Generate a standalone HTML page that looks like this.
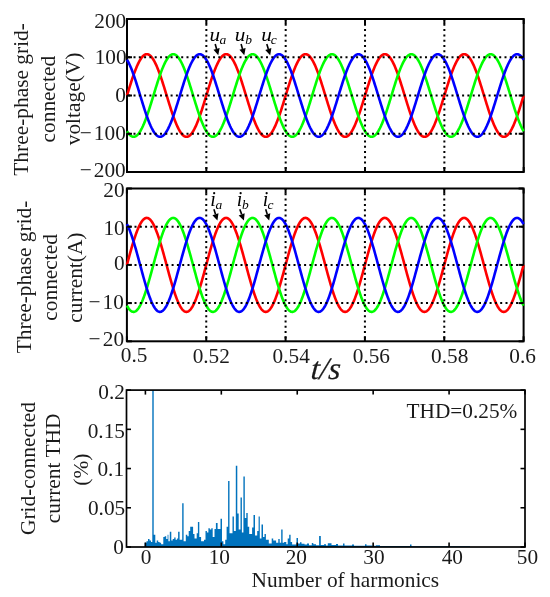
<!DOCTYPE html>
<html><head><meta charset="utf-8"><style>html,body{margin:0;padding:0;background:#fff;}svg{display:block;}</style></head>
<body><svg width="550" height="597" viewBox="0 0 550 597" font-family='"Liberation Serif","Times New Roman",serif' fill="#1a1a1a">
<rect width="550" height="597" fill="#fff"/>
<rect x="127.0" y="19.0" width="396.70000000000005" height="153.0" fill="none" stroke="#000" stroke-width="2"/>
<polyline points="127.00,95.50 127.50,93.88 127.99,92.26 128.49,90.64 128.98,89.04 129.48,87.44 129.98,85.86 130.47,84.29 130.97,82.73 131.46,81.20 131.96,79.69 132.45,78.21 132.95,76.75 133.45,75.32 133.94,73.92 134.44,72.55 134.93,71.22 135.43,69.93 135.93,68.67 136.42,67.46 136.92,66.29 137.41,65.17 137.91,64.09 138.41,63.06 138.90,62.08 139.40,61.15 139.89,60.28 140.39,59.46 140.88,58.69 141.38,57.98 141.88,57.33 142.37,56.74 142.87,56.21 143.36,55.74 143.86,55.33 144.36,54.98 144.85,54.70 145.35,54.48 145.84,54.32 146.34,54.22 146.84,54.19 147.33,54.22 147.83,54.32 148.32,54.48 148.82,54.70 149.31,54.98 149.81,55.33 150.31,55.74 150.80,56.21 151.30,56.74 151.79,57.33 152.29,57.98 152.79,58.69 153.28,59.46 153.78,60.28 154.27,61.15 154.77,62.08 155.26,63.06 155.76,64.09 156.26,65.17 156.75,66.29 157.25,67.46 157.74,68.67 158.24,69.93 158.74,71.22 159.23,72.55 159.73,73.92 160.22,75.32 160.72,76.75 161.22,78.21 161.71,79.69 162.21,81.20 162.70,82.73 163.20,84.29 163.69,85.86 164.19,87.44 164.69,89.04 165.18,90.64 165.68,92.26 166.17,93.88 166.67,95.50 167.17,97.12 167.66,98.74 168.16,100.36 168.65,101.96 169.15,103.56 169.65,105.14 170.14,106.71 170.64,108.27 171.13,109.80 171.63,111.31 172.12,112.79 172.62,114.25 173.12,115.68 173.61,117.08 174.11,118.45 174.60,119.78 175.10,121.07 175.60,122.33 176.09,123.54 176.59,124.71 177.08,125.83 177.58,126.91 178.08,127.94 178.57,128.92 179.07,129.85 179.56,130.72 180.06,131.54 180.55,132.31 181.05,133.02 181.55,133.67 182.04,134.26 182.54,134.79 183.03,135.26 183.53,135.67 184.03,136.02 184.52,136.30 185.02,136.52 185.51,136.68 186.01,136.78 186.51,136.81 187.00,136.78 187.50,136.68 187.99,136.52 188.49,136.30 188.98,136.02 189.48,135.67 189.98,135.26 190.47,134.79 190.97,134.26 191.46,133.67 191.96,133.02 192.46,132.31 192.95,131.54 193.45,130.72 193.94,129.85 194.44,128.92 194.93,127.94 195.43,126.91 195.93,125.83 196.42,124.71 196.92,123.54 197.41,122.33 197.91,121.07 198.41,119.78 198.90,118.45 199.40,117.08 199.89,115.68 200.39,114.25 200.89,112.79 201.38,111.31 201.88,109.80 202.37,108.27 202.87,106.71 203.36,105.14 203.86,103.56 204.36,101.96 204.85,100.36 205.35,98.74 205.84,97.12 206.34,95.50 206.84,93.88 207.33,92.26 207.83,90.64 208.32,89.04 208.82,87.44 209.32,85.86 209.81,84.29 210.31,82.73 210.80,81.20 211.30,79.69 211.79,78.21 212.29,76.75 212.79,75.32 213.28,73.92 213.78,72.55 214.27,71.22 214.77,69.93 215.27,68.67 215.76,67.46 216.26,66.29 216.75,65.17 217.25,64.09 217.75,63.06 218.24,62.08 218.74,61.15 219.23,60.28 219.73,59.46 220.22,58.69 220.72,57.98 221.22,57.33 221.71,56.74 222.21,56.21 222.70,55.74 223.20,55.33 223.70,54.98 224.19,54.70 224.69,54.48 225.18,54.32 225.68,54.22 226.18,54.19 226.67,54.22 227.17,54.32 227.66,54.48 228.16,54.70 228.65,54.98 229.15,55.33 229.65,55.74 230.14,56.21 230.64,56.74 231.13,57.33 231.63,57.98 232.13,58.69 232.62,59.46 233.12,60.28 233.61,61.15 234.11,62.08 234.60,63.06 235.10,64.09 235.60,65.17 236.09,66.29 236.59,67.46 237.08,68.67 237.58,69.93 238.08,71.22 238.57,72.55 239.07,73.92 239.56,75.32 240.06,76.75 240.56,78.21 241.05,79.69 241.55,81.20 242.04,82.73 242.54,84.29 243.03,85.86 243.53,87.44 244.03,89.04 244.52,90.64 245.02,92.26 245.51,93.88 246.01,95.50 246.51,97.12 247.00,98.74 247.50,100.36 247.99,101.96 248.49,103.56 248.99,105.14 249.48,106.71 249.98,108.27 250.47,109.80 250.97,111.31 251.46,112.79 251.96,114.25 252.46,115.68 252.95,117.08 253.45,118.45 253.94,119.78 254.44,121.07 254.94,122.33 255.43,123.54 255.93,124.71 256.42,125.83 256.92,126.91 257.42,127.94 257.91,128.92 258.41,129.85 258.90,130.72 259.40,131.54 259.89,132.31 260.39,133.02 260.89,133.67 261.38,134.26 261.88,134.79 262.37,135.26 262.87,135.67 263.37,136.02 263.86,136.30 264.36,136.52 264.85,136.68 265.35,136.78 265.85,136.81 266.34,136.78 266.84,136.68 267.33,136.52 267.83,136.30 268.32,136.02 268.82,135.67 269.32,135.26 269.81,134.79 270.31,134.26 270.80,133.67 271.30,133.02 271.80,132.31 272.29,131.54 272.79,130.72 273.28,129.85 273.78,128.92 274.27,127.94 274.77,126.91 275.27,125.83 275.76,124.71 276.26,123.54 276.75,122.33 277.25,121.07 277.75,119.78 278.24,118.45 278.74,117.08 279.23,115.68 279.73,114.25 280.23,112.79 280.72,111.31 281.22,109.80 281.71,108.27 282.21,106.71 282.70,105.14 283.20,103.56 283.70,101.96 284.19,100.36 284.69,98.74 285.18,97.12 285.68,95.50 286.18,93.88 286.67,92.26 287.17,90.64 287.66,89.04 288.16,87.44 288.66,85.86 289.15,84.29 289.65,82.73 290.14,81.20 290.64,79.69 291.13,78.21 291.63,76.75 292.13,75.32 292.62,73.92 293.12,72.55 293.61,71.22 294.11,69.93 294.61,68.67 295.10,67.46 295.60,66.29 296.09,65.17 296.59,64.09 297.09,63.06 297.58,62.08 298.08,61.15 298.57,60.28 299.07,59.46 299.56,58.69 300.06,57.98 300.56,57.33 301.05,56.74 301.55,56.21 302.04,55.74 302.54,55.33 303.04,54.98 303.53,54.70 304.03,54.48 304.52,54.32 305.02,54.22 305.52,54.19 306.01,54.22 306.51,54.32 307.00,54.48 307.50,54.70 307.99,54.98 308.49,55.33 308.99,55.74 309.48,56.21 309.98,56.74 310.47,57.33 310.97,57.98 311.47,58.69 311.96,59.46 312.46,60.28 312.95,61.15 313.45,62.08 313.94,63.06 314.44,64.09 314.94,65.17 315.43,66.29 315.93,67.46 316.42,68.67 316.92,69.93 317.42,71.22 317.91,72.55 318.41,73.92 318.90,75.32 319.40,76.75 319.90,78.21 320.39,79.69 320.89,81.20 321.38,82.73 321.88,84.29 322.37,85.86 322.87,87.44 323.37,89.04 323.86,90.64 324.36,92.26 324.85,93.88 325.35,95.50 325.85,97.12 326.34,98.74 326.84,100.36 327.33,101.96 327.83,103.56 328.33,105.14 328.82,106.71 329.32,108.27 329.81,109.80 330.31,111.31 330.80,112.79 331.30,114.25 331.80,115.68 332.29,117.08 332.79,118.45 333.28,119.78 333.78,121.07 334.28,122.33 334.77,123.54 335.27,124.71 335.76,125.83 336.26,126.91 336.76,127.94 337.25,128.92 337.75,129.85 338.24,130.72 338.74,131.54 339.23,132.31 339.73,133.02 340.23,133.67 340.72,134.26 341.22,134.79 341.71,135.26 342.21,135.67 342.71,136.02 343.20,136.30 343.70,136.52 344.19,136.68 344.69,136.78 345.19,136.81 345.68,136.78 346.18,136.68 346.67,136.52 347.17,136.30 347.66,136.02 348.16,135.67 348.66,135.26 349.15,134.79 349.65,134.26 350.14,133.67 350.64,133.02 351.14,132.31 351.63,131.54 352.13,130.72 352.62,129.85 353.12,128.92 353.61,127.94 354.11,126.91 354.61,125.83 355.10,124.71 355.60,123.54 356.09,122.33 356.59,121.07 357.09,119.78 357.58,118.45 358.08,117.08 358.57,115.68 359.07,114.25 359.57,112.79 360.06,111.31 360.56,109.80 361.05,108.27 361.55,106.71 362.04,105.14 362.54,103.56 363.04,101.96 363.53,100.36 364.03,98.74 364.52,97.12 365.02,95.50 365.52,93.88 366.01,92.26 366.51,90.64 367.00,89.04 367.50,87.44 368.00,85.86 368.49,84.29 368.99,82.73 369.48,81.20 369.98,79.69 370.47,78.21 370.97,76.75 371.47,75.32 371.96,73.92 372.46,72.55 372.95,71.22 373.45,69.93 373.95,68.67 374.44,67.46 374.94,66.29 375.43,65.17 375.93,64.09 376.43,63.06 376.92,62.08 377.42,61.15 377.91,60.28 378.41,59.46 378.90,58.69 379.40,57.98 379.90,57.33 380.39,56.74 380.89,56.21 381.38,55.74 381.88,55.33 382.38,54.98 382.87,54.70 383.37,54.48 383.86,54.32 384.36,54.22 384.85,54.19 385.35,54.22 385.85,54.32 386.34,54.48 386.84,54.70 387.33,54.98 387.83,55.33 388.33,55.74 388.82,56.21 389.32,56.74 389.81,57.33 390.31,57.98 390.81,58.69 391.30,59.46 391.80,60.28 392.29,61.15 392.79,62.08 393.28,63.06 393.78,64.09 394.28,65.17 394.77,66.29 395.27,67.46 395.76,68.67 396.26,69.93 396.76,71.22 397.25,72.55 397.75,73.92 398.24,75.32 398.74,76.75 399.24,78.21 399.73,79.69 400.23,81.20 400.72,82.73 401.22,84.29 401.71,85.86 402.21,87.44 402.71,89.04 403.20,90.64 403.70,92.26 404.19,93.88 404.69,95.50 405.19,97.12 405.68,98.74 406.18,100.36 406.67,101.96 407.17,103.56 407.67,105.14 408.16,106.71 408.66,108.27 409.15,109.80 409.65,111.31 410.14,112.79 410.64,114.25 411.14,115.68 411.63,117.08 412.13,118.45 412.62,119.78 413.12,121.07 413.62,122.33 414.11,123.54 414.61,124.71 415.10,125.83 415.60,126.91 416.10,127.94 416.59,128.92 417.09,129.85 417.58,130.72 418.08,131.54 418.57,132.31 419.07,133.02 419.57,133.67 420.06,134.26 420.56,134.79 421.05,135.26 421.55,135.67 422.05,136.02 422.54,136.30 423.04,136.52 423.53,136.68 424.03,136.78 424.52,136.81 425.02,136.78 425.52,136.68 426.01,136.52 426.51,136.30 427.00,136.02 427.50,135.67 428.00,135.26 428.49,134.79 428.99,134.26 429.48,133.67 429.98,133.02 430.48,132.31 430.97,131.54 431.47,130.72 431.96,129.85 432.46,128.92 432.95,127.94 433.45,126.91 433.95,125.83 434.44,124.71 434.94,123.54 435.43,122.33 435.93,121.07 436.43,119.78 436.92,118.45 437.42,117.08 437.91,115.68 438.41,114.25 438.91,112.79 439.40,111.31 439.90,109.80 440.39,108.27 440.89,106.71 441.38,105.14 441.88,103.56 442.38,101.96 442.87,100.36 443.37,98.74 443.86,97.12 444.36,95.50 444.86,93.88 445.35,92.26 445.85,90.64 446.34,89.04 446.84,87.44 447.34,85.86 447.83,84.29 448.33,82.73 448.82,81.20 449.32,79.69 449.81,78.21 450.31,76.75 450.81,75.32 451.30,73.92 451.80,72.55 452.29,71.22 452.79,69.93 453.29,68.67 453.78,67.46 454.28,66.29 454.77,65.17 455.27,64.09 455.77,63.06 456.26,62.08 456.76,61.15 457.25,60.28 457.75,59.46 458.24,58.69 458.74,57.98 459.24,57.33 459.73,56.74 460.23,56.21 460.72,55.74 461.22,55.33 461.72,54.98 462.21,54.70 462.71,54.48 463.20,54.32 463.70,54.22 464.19,54.19 464.69,54.22 465.19,54.32 465.68,54.48 466.18,54.70 466.67,54.98 467.17,55.33 467.67,55.74 468.16,56.21 468.66,56.74 469.15,57.33 469.65,57.98 470.15,58.69 470.64,59.46 471.14,60.28 471.63,61.15 472.13,62.08 472.62,63.06 473.12,64.09 473.62,65.17 474.11,66.29 474.61,67.46 475.10,68.67 475.60,69.93 476.10,71.22 476.59,72.55 477.09,73.92 477.58,75.32 478.08,76.75 478.58,78.21 479.07,79.69 479.57,81.20 480.06,82.73 480.56,84.29 481.05,85.86 481.55,87.44 482.05,89.04 482.54,90.64 483.04,92.26 483.53,93.88 484.03,95.50 484.53,97.12 485.02,98.74 485.52,100.36 486.01,101.96 486.51,103.56 487.01,105.14 487.50,106.71 488.00,108.27 488.49,109.80 488.99,111.31 489.48,112.79 489.98,114.25 490.48,115.68 490.97,117.08 491.47,118.45 491.96,119.78 492.46,121.07 492.96,122.33 493.45,123.54 493.95,124.71 494.44,125.83 494.94,126.91 495.44,127.94 495.93,128.92 496.43,129.85 496.92,130.72 497.42,131.54 497.91,132.31 498.41,133.02 498.91,133.67 499.40,134.26 499.90,134.79 500.39,135.26 500.89,135.67 501.39,136.02 501.88,136.30 502.38,136.52 502.87,136.68 503.37,136.78 503.86,136.81 504.36,136.78 504.86,136.68 505.35,136.52 505.85,136.30 506.34,136.02 506.84,135.67 507.34,135.26 507.83,134.79 508.33,134.26 508.82,133.67 509.32,133.02 509.82,132.31 510.31,131.54 510.81,130.72 511.30,129.85 511.80,128.92 512.29,127.94 512.79,126.91 513.29,125.83 513.78,124.71 514.28,123.54 514.77,122.33 515.27,121.07 515.77,119.78 516.26,118.45 516.76,117.08 517.25,115.68 517.75,114.25 518.25,112.79 518.74,111.31 519.24,109.80 519.73,108.27 520.23,106.71 520.72,105.14 521.22,103.56 521.72,101.96 522.21,100.36 522.71,98.74 523.20,97.12 523.70,95.50" stroke="#f00" stroke-width="2.6" fill="none" stroke-linejoin="round"/>
<polyline points="127.00,131.28 127.50,132.06 127.99,132.79 128.49,133.46 128.98,134.07 129.48,134.62 129.98,135.11 130.47,135.54 130.97,135.91 131.46,136.21 131.96,136.46 132.45,136.64 132.95,136.75 133.45,136.81 133.94,136.80 134.44,136.72 134.93,136.58 135.43,136.38 135.93,136.12 136.42,135.79 136.92,135.40 137.41,134.95 137.91,134.44 138.41,133.87 138.90,133.24 139.40,132.55 139.89,131.80 140.39,131.00 140.88,130.15 141.38,129.24 141.88,128.27 142.37,127.26 142.87,126.20 143.36,125.09 143.86,123.94 144.36,122.74 144.85,121.50 145.35,120.22 145.84,118.90 146.34,117.54 146.84,116.15 147.33,114.73 147.83,113.28 148.32,111.81 148.82,110.30 149.31,108.78 149.81,107.23 150.31,105.67 150.80,104.09 151.30,102.50 151.79,100.89 152.29,99.28 152.79,97.66 153.28,96.04 153.78,94.42 154.27,92.80 154.77,91.18 155.26,89.57 155.76,87.97 156.26,86.38 156.75,84.81 157.25,83.25 157.74,81.71 158.24,80.19 158.74,78.70 159.23,77.23 159.73,75.79 160.22,74.38 160.72,73.00 161.22,71.66 161.71,70.35 162.21,69.08 162.70,67.86 163.20,66.67 163.69,65.53 164.19,64.44 164.69,63.40 165.18,62.40 165.68,61.46 166.17,60.56 166.67,59.72 167.17,58.94 167.66,58.21 168.16,57.54 168.65,56.93 169.15,56.38 169.65,55.89 170.14,55.46 170.64,55.09 171.13,54.79 171.63,54.54 172.12,54.36 172.62,54.25 173.12,54.19 173.61,54.20 174.11,54.28 174.60,54.42 175.10,54.62 175.60,54.88 176.09,55.21 176.59,55.60 177.08,56.05 177.58,56.56 178.08,57.13 178.57,57.76 179.07,58.45 179.56,59.20 180.06,60.00 180.55,60.85 181.05,61.76 181.55,62.73 182.04,63.74 182.54,64.80 183.03,65.91 183.53,67.06 184.03,68.26 184.52,69.50 185.02,70.78 185.51,72.10 186.01,73.46 186.51,74.85 187.00,76.27 187.50,77.72 187.99,79.19 188.49,80.70 188.98,82.22 189.48,83.77 189.98,85.33 190.47,86.91 190.97,88.50 191.46,90.11 191.96,91.72 192.46,93.34 192.95,94.96 193.45,96.58 193.94,98.20 194.44,99.82 194.93,101.43 195.43,103.03 195.93,104.62 196.42,106.19 196.92,107.75 197.41,109.29 197.91,110.81 198.41,112.30 198.90,113.77 199.40,115.21 199.89,116.62 200.39,118.00 200.89,119.34 201.38,120.65 201.88,121.92 202.37,123.14 202.87,124.33 203.36,125.47 203.86,126.56 204.36,127.60 204.85,128.60 205.35,129.54 205.84,130.44 206.34,131.28 206.84,132.06 207.33,132.79 207.83,133.46 208.32,134.07 208.82,134.62 209.32,135.11 209.81,135.54 210.31,135.91 210.80,136.21 211.30,136.46 211.79,136.64 212.29,136.75 212.79,136.81 213.28,136.80 213.78,136.72 214.27,136.58 214.77,136.38 215.27,136.12 215.76,135.79 216.26,135.40 216.75,134.95 217.25,134.44 217.75,133.87 218.24,133.24 218.74,132.55 219.23,131.80 219.73,131.00 220.22,130.15 220.72,129.24 221.22,128.27 221.71,127.26 222.21,126.20 222.70,125.09 223.20,123.94 223.70,122.74 224.19,121.50 224.69,120.22 225.18,118.90 225.68,117.54 226.18,116.15 226.67,114.73 227.17,113.28 227.66,111.81 228.16,110.30 228.65,108.78 229.15,107.23 229.65,105.67 230.14,104.09 230.64,102.50 231.13,100.89 231.63,99.28 232.13,97.66 232.62,96.04 233.12,94.42 233.61,92.80 234.11,91.18 234.60,89.57 235.10,87.97 235.60,86.38 236.09,84.81 236.59,83.25 237.08,81.71 237.58,80.19 238.08,78.70 238.57,77.23 239.07,75.79 239.56,74.38 240.06,73.00 240.56,71.66 241.05,70.35 241.55,69.08 242.04,67.86 242.54,66.67 243.03,65.53 243.53,64.44 244.03,63.40 244.52,62.40 245.02,61.46 245.51,60.56 246.01,59.72 246.51,58.94 247.00,58.21 247.50,57.54 247.99,56.93 248.49,56.38 248.99,55.89 249.48,55.46 249.98,55.09 250.47,54.79 250.97,54.54 251.46,54.36 251.96,54.25 252.46,54.19 252.95,54.20 253.45,54.28 253.94,54.42 254.44,54.62 254.94,54.88 255.43,55.21 255.93,55.60 256.42,56.05 256.92,56.56 257.42,57.13 257.91,57.76 258.41,58.45 258.90,59.20 259.40,60.00 259.89,60.85 260.39,61.76 260.89,62.73 261.38,63.74 261.88,64.80 262.37,65.91 262.87,67.06 263.37,68.26 263.86,69.50 264.36,70.78 264.85,72.10 265.35,73.46 265.85,74.85 266.34,76.27 266.84,77.72 267.33,79.19 267.83,80.70 268.32,82.22 268.82,83.77 269.32,85.33 269.81,86.91 270.31,88.50 270.80,90.11 271.30,91.72 271.80,93.34 272.29,94.96 272.79,96.58 273.28,98.20 273.78,99.82 274.27,101.43 274.77,103.03 275.27,104.62 275.76,106.19 276.26,107.75 276.75,109.29 277.25,110.81 277.75,112.30 278.24,113.77 278.74,115.21 279.23,116.62 279.73,118.00 280.23,119.34 280.72,120.65 281.22,121.92 281.71,123.14 282.21,124.33 282.70,125.47 283.20,126.56 283.70,127.60 284.19,128.60 284.69,129.54 285.18,130.44 285.68,131.28 286.18,132.06 286.67,132.79 287.17,133.46 287.66,134.07 288.16,134.62 288.66,135.11 289.15,135.54 289.65,135.91 290.14,136.21 290.64,136.46 291.13,136.64 291.63,136.75 292.13,136.81 292.62,136.80 293.12,136.72 293.61,136.58 294.11,136.38 294.61,136.12 295.10,135.79 295.60,135.40 296.09,134.95 296.59,134.44 297.09,133.87 297.58,133.24 298.08,132.55 298.57,131.80 299.07,131.00 299.56,130.15 300.06,129.24 300.56,128.27 301.05,127.26 301.55,126.20 302.04,125.09 302.54,123.94 303.04,122.74 303.53,121.50 304.03,120.22 304.52,118.90 305.02,117.54 305.52,116.15 306.01,114.73 306.51,113.28 307.00,111.81 307.50,110.30 307.99,108.78 308.49,107.23 308.99,105.67 309.48,104.09 309.98,102.50 310.47,100.89 310.97,99.28 311.47,97.66 311.96,96.04 312.46,94.42 312.95,92.80 313.45,91.18 313.94,89.57 314.44,87.97 314.94,86.38 315.43,84.81 315.93,83.25 316.42,81.71 316.92,80.19 317.42,78.70 317.91,77.23 318.41,75.79 318.90,74.38 319.40,73.00 319.90,71.66 320.39,70.35 320.89,69.08 321.38,67.86 321.88,66.67 322.37,65.53 322.87,64.44 323.37,63.40 323.86,62.40 324.36,61.46 324.85,60.56 325.35,59.72 325.85,58.94 326.34,58.21 326.84,57.54 327.33,56.93 327.83,56.38 328.33,55.89 328.82,55.46 329.32,55.09 329.81,54.79 330.31,54.54 330.80,54.36 331.30,54.25 331.80,54.19 332.29,54.20 332.79,54.28 333.28,54.42 333.78,54.62 334.28,54.88 334.77,55.21 335.27,55.60 335.76,56.05 336.26,56.56 336.76,57.13 337.25,57.76 337.75,58.45 338.24,59.20 338.74,60.00 339.23,60.85 339.73,61.76 340.23,62.73 340.72,63.74 341.22,64.80 341.71,65.91 342.21,67.06 342.71,68.26 343.20,69.50 343.70,70.78 344.19,72.10 344.69,73.46 345.19,74.85 345.68,76.27 346.18,77.72 346.67,79.19 347.17,80.70 347.66,82.22 348.16,83.77 348.66,85.33 349.15,86.91 349.65,88.50 350.14,90.11 350.64,91.72 351.14,93.34 351.63,94.96 352.13,96.58 352.62,98.20 353.12,99.82 353.61,101.43 354.11,103.03 354.61,104.62 355.10,106.19 355.60,107.75 356.09,109.29 356.59,110.81 357.09,112.30 357.58,113.77 358.08,115.21 358.57,116.62 359.07,118.00 359.57,119.34 360.06,120.65 360.56,121.92 361.05,123.14 361.55,124.33 362.04,125.47 362.54,126.56 363.04,127.60 363.53,128.60 364.03,129.54 364.52,130.44 365.02,131.28 365.52,132.06 366.01,132.79 366.51,133.46 367.00,134.07 367.50,134.62 368.00,135.11 368.49,135.54 368.99,135.91 369.48,136.21 369.98,136.46 370.47,136.64 370.97,136.75 371.47,136.81 371.96,136.80 372.46,136.72 372.95,136.58 373.45,136.38 373.95,136.12 374.44,135.79 374.94,135.40 375.43,134.95 375.93,134.44 376.43,133.87 376.92,133.24 377.42,132.55 377.91,131.80 378.41,131.00 378.90,130.15 379.40,129.24 379.90,128.27 380.39,127.26 380.89,126.20 381.38,125.09 381.88,123.94 382.38,122.74 382.87,121.50 383.37,120.22 383.86,118.90 384.36,117.54 384.85,116.16 385.35,114.73 385.85,113.28 386.34,111.81 386.84,110.30 387.33,108.78 387.83,107.23 388.33,105.67 388.82,104.09 389.32,102.50 389.81,100.89 390.31,99.28 390.81,97.66 391.30,96.04 391.80,94.42 392.29,92.80 392.79,91.18 393.28,89.57 393.78,87.97 394.28,86.38 394.77,84.81 395.27,83.25 395.76,81.71 396.26,80.19 396.76,78.70 397.25,77.23 397.75,75.79 398.24,74.38 398.74,73.00 399.24,71.66 399.73,70.35 400.23,69.08 400.72,67.86 401.22,66.67 401.71,65.53 402.21,64.44 402.71,63.40 403.20,62.40 403.70,61.46 404.19,60.56 404.69,59.72 405.19,58.94 405.68,58.21 406.18,57.54 406.67,56.93 407.17,56.38 407.67,55.89 408.16,55.46 408.66,55.09 409.15,54.79 409.65,54.54 410.14,54.36 410.64,54.25 411.14,54.19 411.63,54.20 412.13,54.28 412.62,54.42 413.12,54.62 413.62,54.88 414.11,55.21 414.61,55.60 415.10,56.05 415.60,56.56 416.10,57.13 416.59,57.76 417.09,58.45 417.58,59.20 418.08,60.00 418.57,60.85 419.07,61.76 419.57,62.73 420.06,63.74 420.56,64.80 421.05,65.91 421.55,67.06 422.05,68.26 422.54,69.50 423.04,70.78 423.53,72.10 424.03,73.46 424.52,74.84 425.02,76.27 425.52,77.72 426.01,79.19 426.51,80.70 427.00,82.22 427.50,83.77 428.00,85.33 428.49,86.91 428.99,88.50 429.48,90.11 429.98,91.72 430.48,93.34 430.97,94.96 431.47,96.58 431.96,98.20 432.46,99.82 432.95,101.43 433.45,103.03 433.95,104.62 434.44,106.19 434.94,107.75 435.43,109.29 435.93,110.81 436.43,112.30 436.92,113.77 437.42,115.21 437.91,116.62 438.41,118.00 438.91,119.34 439.40,120.65 439.90,121.92 440.39,123.14 440.89,124.33 441.38,125.47 441.88,126.56 442.38,127.60 442.87,128.60 443.37,129.54 443.86,130.44 444.36,131.28 444.86,132.06 445.35,132.79 445.85,133.46 446.34,134.07 446.84,134.62 447.34,135.11 447.83,135.54 448.33,135.91 448.82,136.21 449.32,136.46 449.81,136.64 450.31,136.75 450.81,136.81 451.30,136.80 451.80,136.72 452.29,136.58 452.79,136.38 453.29,136.12 453.78,135.79 454.28,135.40 454.77,134.95 455.27,134.44 455.77,133.87 456.26,133.24 456.76,132.55 457.25,131.80 457.75,131.00 458.24,130.15 458.74,129.24 459.24,128.27 459.73,127.26 460.23,126.20 460.72,125.09 461.22,123.94 461.72,122.74 462.21,121.50 462.71,120.22 463.20,118.90 463.70,117.54 464.19,116.16 464.69,114.73 465.19,113.28 465.68,111.81 466.18,110.30 466.67,108.78 467.17,107.23 467.67,105.67 468.16,104.09 468.66,102.50 469.15,100.89 469.65,99.28 470.15,97.66 470.64,96.04 471.14,94.42 471.63,92.80 472.13,91.18 472.62,89.57 473.12,87.97 473.62,86.38 474.11,84.81 474.61,83.25 475.10,81.71 475.60,80.19 476.10,78.70 476.59,77.23 477.09,75.79 477.58,74.38 478.08,73.00 478.58,71.66 479.07,70.35 479.57,69.08 480.06,67.86 480.56,66.67 481.05,65.53 481.55,64.44 482.05,63.40 482.54,62.40 483.04,61.46 483.53,60.56 484.03,59.72 484.53,58.94 485.02,58.21 485.52,57.54 486.01,56.93 486.51,56.38 487.01,55.89 487.50,55.46 488.00,55.09 488.49,54.79 488.99,54.54 489.48,54.36 489.98,54.25 490.48,54.19 490.97,54.20 491.47,54.28 491.96,54.42 492.46,54.62 492.96,54.88 493.45,55.21 493.95,55.60 494.44,56.05 494.94,56.56 495.44,57.13 495.93,57.76 496.43,58.45 496.92,59.20 497.42,60.00 497.91,60.85 498.41,61.76 498.91,62.73 499.40,63.74 499.90,64.80 500.39,65.91 500.89,67.06 501.39,68.26 501.88,69.50 502.38,70.78 502.87,72.10 503.37,73.46 503.86,74.84 504.36,76.27 504.86,77.72 505.35,79.19 505.85,80.70 506.34,82.22 506.84,83.77 507.34,85.33 507.83,86.91 508.33,88.50 508.82,90.11 509.32,91.72 509.82,93.34 510.31,94.96 510.81,96.58 511.30,98.20 511.80,99.82 512.29,101.43 512.79,103.03 513.29,104.62 513.78,106.19 514.28,107.75 514.77,109.29 515.27,110.81 515.77,112.30 516.26,113.77 516.76,115.21 517.25,116.62 517.75,118.00 518.25,119.34 518.74,120.65 519.24,121.92 519.73,123.14 520.23,124.33 520.72,125.47 521.22,126.56 521.72,127.60 522.21,128.60 522.71,129.54 523.20,130.44 523.70,131.28" stroke="#0f0" stroke-width="2.6" fill="none" stroke-linejoin="round"/>
<polyline points="127.00,59.72 127.50,60.56 127.99,61.46 128.49,62.40 128.98,63.40 129.48,64.44 129.98,65.53 130.47,66.67 130.97,67.86 131.46,69.08 131.96,70.35 132.45,71.66 132.95,73.00 133.45,74.38 133.94,75.79 134.44,77.23 134.93,78.70 135.43,80.19 135.93,81.71 136.42,83.25 136.92,84.81 137.41,86.38 137.91,87.97 138.41,89.57 138.90,91.18 139.40,92.80 139.89,94.42 140.39,96.04 140.88,97.66 141.38,99.28 141.88,100.89 142.37,102.50 142.87,104.09 143.36,105.67 143.86,107.23 144.36,108.78 144.85,110.30 145.35,111.81 145.84,113.28 146.34,114.73 146.84,116.16 147.33,117.54 147.83,118.90 148.32,120.22 148.82,121.50 149.31,122.74 149.81,123.94 150.31,125.09 150.80,126.20 151.30,127.26 151.79,128.27 152.29,129.24 152.79,130.15 153.28,131.00 153.78,131.80 154.27,132.55 154.77,133.24 155.26,133.87 155.76,134.44 156.26,134.95 156.75,135.40 157.25,135.79 157.74,136.12 158.24,136.38 158.74,136.58 159.23,136.72 159.73,136.80 160.22,136.81 160.72,136.75 161.22,136.64 161.71,136.46 162.21,136.21 162.70,135.91 163.20,135.54 163.69,135.11 164.19,134.62 164.69,134.07 165.18,133.46 165.68,132.79 166.17,132.06 166.67,131.28 167.17,130.44 167.66,129.54 168.16,128.60 168.65,127.60 169.15,126.56 169.65,125.47 170.14,124.33 170.64,123.14 171.13,121.92 171.63,120.65 172.12,119.34 172.62,118.00 173.12,116.62 173.61,115.21 174.11,113.77 174.60,112.30 175.10,110.81 175.60,109.29 176.09,107.75 176.59,106.19 177.08,104.62 177.58,103.03 178.08,101.43 178.57,99.82 179.07,98.20 179.56,96.58 180.06,94.96 180.55,93.34 181.05,91.72 181.55,90.11 182.04,88.50 182.54,86.91 183.03,85.33 183.53,83.77 184.03,82.22 184.52,80.70 185.02,79.19 185.51,77.72 186.01,76.27 186.51,74.84 187.00,73.46 187.50,72.10 187.99,70.78 188.49,69.50 188.98,68.26 189.48,67.06 189.98,65.91 190.47,64.80 190.97,63.74 191.46,62.73 191.96,61.76 192.46,60.85 192.95,60.00 193.45,59.20 193.94,58.45 194.44,57.76 194.93,57.13 195.43,56.56 195.93,56.05 196.42,55.60 196.92,55.21 197.41,54.88 197.91,54.62 198.41,54.42 198.90,54.28 199.40,54.20 199.89,54.19 200.39,54.25 200.89,54.36 201.38,54.54 201.88,54.79 202.37,55.09 202.87,55.46 203.36,55.89 203.86,56.38 204.36,56.93 204.85,57.54 205.35,58.21 205.84,58.94 206.34,59.72 206.84,60.56 207.33,61.46 207.83,62.40 208.32,63.40 208.82,64.44 209.32,65.53 209.81,66.67 210.31,67.86 210.80,69.08 211.30,70.35 211.79,71.66 212.29,73.00 212.79,74.38 213.28,75.79 213.78,77.23 214.27,78.70 214.77,80.19 215.27,81.71 215.76,83.25 216.26,84.81 216.75,86.38 217.25,87.97 217.75,89.57 218.24,91.18 218.74,92.80 219.23,94.42 219.73,96.04 220.22,97.66 220.72,99.28 221.22,100.89 221.71,102.50 222.21,104.09 222.70,105.67 223.20,107.23 223.70,108.78 224.19,110.30 224.69,111.81 225.18,113.28 225.68,114.73 226.18,116.16 226.67,117.54 227.17,118.90 227.66,120.22 228.16,121.50 228.65,122.74 229.15,123.94 229.65,125.09 230.14,126.20 230.64,127.26 231.13,128.27 231.63,129.24 232.13,130.15 232.62,131.00 233.12,131.80 233.61,132.55 234.11,133.24 234.60,133.87 235.10,134.44 235.60,134.95 236.09,135.40 236.59,135.79 237.08,136.12 237.58,136.38 238.08,136.58 238.57,136.72 239.07,136.80 239.56,136.81 240.06,136.75 240.56,136.64 241.05,136.46 241.55,136.21 242.04,135.91 242.54,135.54 243.03,135.11 243.53,134.62 244.03,134.07 244.52,133.46 245.02,132.79 245.51,132.06 246.01,131.28 246.51,130.44 247.00,129.54 247.50,128.60 247.99,127.60 248.49,126.56 248.99,125.47 249.48,124.33 249.98,123.14 250.47,121.92 250.97,120.65 251.46,119.34 251.96,118.00 252.46,116.62 252.95,115.21 253.45,113.77 253.94,112.30 254.44,110.81 254.94,109.29 255.43,107.75 255.93,106.19 256.42,104.62 256.92,103.03 257.42,101.43 257.91,99.82 258.41,98.20 258.90,96.58 259.40,94.96 259.89,93.34 260.39,91.72 260.89,90.11 261.38,88.50 261.88,86.91 262.37,85.33 262.87,83.77 263.37,82.22 263.86,80.70 264.36,79.19 264.85,77.72 265.35,76.27 265.85,74.84 266.34,73.46 266.84,72.10 267.33,70.78 267.83,69.50 268.32,68.26 268.82,67.06 269.32,65.91 269.81,64.80 270.31,63.74 270.80,62.73 271.30,61.76 271.80,60.85 272.29,60.00 272.79,59.20 273.28,58.45 273.78,57.76 274.27,57.13 274.77,56.56 275.27,56.05 275.76,55.60 276.26,55.21 276.75,54.88 277.25,54.62 277.75,54.42 278.24,54.28 278.74,54.20 279.23,54.19 279.73,54.25 280.23,54.36 280.72,54.54 281.22,54.79 281.71,55.09 282.21,55.46 282.70,55.89 283.20,56.38 283.70,56.93 284.19,57.54 284.69,58.21 285.18,58.94 285.68,59.72 286.18,60.56 286.67,61.46 287.17,62.40 287.66,63.40 288.16,64.44 288.66,65.53 289.15,66.67 289.65,67.86 290.14,69.08 290.64,70.35 291.13,71.66 291.63,73.00 292.13,74.38 292.62,75.79 293.12,77.23 293.61,78.70 294.11,80.19 294.61,81.71 295.10,83.25 295.60,84.81 296.09,86.38 296.59,87.97 297.09,89.57 297.58,91.18 298.08,92.80 298.57,94.42 299.07,96.04 299.56,97.66 300.06,99.28 300.56,100.89 301.05,102.50 301.55,104.09 302.04,105.67 302.54,107.23 303.04,108.78 303.53,110.30 304.03,111.81 304.52,113.28 305.02,114.73 305.52,116.16 306.01,117.54 306.51,118.90 307.00,120.22 307.50,121.50 307.99,122.74 308.49,123.94 308.99,125.09 309.48,126.20 309.98,127.26 310.47,128.27 310.97,129.24 311.47,130.15 311.96,131.00 312.46,131.80 312.95,132.55 313.45,133.24 313.94,133.87 314.44,134.44 314.94,134.95 315.43,135.40 315.93,135.79 316.42,136.12 316.92,136.38 317.42,136.58 317.91,136.72 318.41,136.80 318.90,136.81 319.40,136.75 319.90,136.64 320.39,136.46 320.89,136.21 321.38,135.91 321.88,135.54 322.37,135.11 322.87,134.62 323.37,134.07 323.86,133.46 324.36,132.79 324.85,132.06 325.35,131.28 325.85,130.44 326.34,129.54 326.84,128.60 327.33,127.60 327.83,126.56 328.33,125.47 328.82,124.33 329.32,123.14 329.81,121.92 330.31,120.65 330.80,119.34 331.30,118.00 331.80,116.62 332.29,115.21 332.79,113.77 333.28,112.30 333.78,110.81 334.28,109.29 334.77,107.75 335.27,106.19 335.76,104.62 336.26,103.03 336.76,101.43 337.25,99.82 337.75,98.20 338.24,96.58 338.74,94.96 339.23,93.34 339.73,91.72 340.23,90.11 340.72,88.50 341.22,86.91 341.71,85.33 342.21,83.77 342.71,82.22 343.20,80.70 343.70,79.19 344.19,77.72 344.69,76.27 345.19,74.84 345.68,73.46 346.18,72.10 346.67,70.78 347.17,69.50 347.66,68.26 348.16,67.06 348.66,65.91 349.15,64.80 349.65,63.74 350.14,62.73 350.64,61.76 351.14,60.85 351.63,60.00 352.13,59.20 352.62,58.45 353.12,57.76 353.61,57.13 354.11,56.56 354.61,56.05 355.10,55.60 355.60,55.21 356.09,54.88 356.59,54.62 357.09,54.42 357.58,54.28 358.08,54.20 358.57,54.19 359.07,54.25 359.57,54.36 360.06,54.54 360.56,54.79 361.05,55.09 361.55,55.46 362.04,55.89 362.54,56.38 363.04,56.93 363.53,57.54 364.03,58.21 364.52,58.94 365.02,59.72 365.52,60.56 366.01,61.46 366.51,62.40 367.00,63.40 367.50,64.44 368.00,65.53 368.49,66.67 368.99,67.86 369.48,69.08 369.98,70.35 370.47,71.66 370.97,73.00 371.47,74.38 371.96,75.79 372.46,77.23 372.95,78.70 373.45,80.19 373.95,81.71 374.44,83.25 374.94,84.81 375.43,86.38 375.93,87.97 376.43,89.57 376.92,91.18 377.42,92.80 377.91,94.42 378.41,96.04 378.90,97.66 379.40,99.28 379.90,100.89 380.39,102.50 380.89,104.09 381.38,105.67 381.88,107.23 382.38,108.78 382.87,110.30 383.37,111.81 383.86,113.28 384.36,114.73 384.85,116.15 385.35,117.54 385.85,118.90 386.34,120.22 386.84,121.50 387.33,122.74 387.83,123.94 388.33,125.09 388.82,126.20 389.32,127.26 389.81,128.27 390.31,129.24 390.81,130.15 391.30,131.00 391.80,131.80 392.29,132.55 392.79,133.24 393.28,133.87 393.78,134.44 394.28,134.95 394.77,135.40 395.27,135.79 395.76,136.12 396.26,136.38 396.76,136.58 397.25,136.72 397.75,136.80 398.24,136.81 398.74,136.75 399.24,136.64 399.73,136.46 400.23,136.21 400.72,135.91 401.22,135.54 401.71,135.11 402.21,134.62 402.71,134.07 403.20,133.46 403.70,132.79 404.19,132.06 404.69,131.28 405.19,130.44 405.68,129.54 406.18,128.60 406.67,127.60 407.17,126.56 407.67,125.47 408.16,124.33 408.66,123.14 409.15,121.92 409.65,120.65 410.14,119.34 410.64,118.00 411.14,116.62 411.63,115.21 412.13,113.77 412.62,112.30 413.12,110.81 413.62,109.29 414.11,107.75 414.61,106.19 415.10,104.62 415.60,103.03 416.10,101.43 416.59,99.82 417.09,98.20 417.58,96.58 418.08,94.96 418.57,93.34 419.07,91.72 419.57,90.11 420.06,88.50 420.56,86.91 421.05,85.33 421.55,83.77 422.05,82.22 422.54,80.70 423.04,79.19 423.53,77.72 424.03,76.27 424.52,74.85 425.02,73.46 425.52,72.10 426.01,70.78 426.51,69.50 427.00,68.26 427.50,67.06 428.00,65.91 428.49,64.80 428.99,63.74 429.48,62.73 429.98,61.76 430.48,60.85 430.97,60.00 431.47,59.20 431.96,58.45 432.46,57.76 432.95,57.13 433.45,56.56 433.95,56.05 434.44,55.60 434.94,55.21 435.43,54.88 435.93,54.62 436.43,54.42 436.92,54.28 437.42,54.20 437.91,54.19 438.41,54.25 438.91,54.36 439.40,54.54 439.90,54.79 440.39,55.09 440.89,55.46 441.38,55.89 441.88,56.38 442.38,56.93 442.87,57.54 443.37,58.21 443.86,58.94 444.36,59.72 444.86,60.56 445.35,61.46 445.85,62.40 446.34,63.40 446.84,64.44 447.34,65.53 447.83,66.67 448.33,67.86 448.82,69.08 449.32,70.35 449.81,71.66 450.31,73.00 450.81,74.38 451.30,75.79 451.80,77.23 452.29,78.70 452.79,80.19 453.29,81.71 453.78,83.25 454.28,84.81 454.77,86.38 455.27,87.97 455.77,89.57 456.26,91.18 456.76,92.80 457.25,94.42 457.75,96.04 458.24,97.66 458.74,99.28 459.24,100.89 459.73,102.50 460.23,104.09 460.72,105.67 461.22,107.23 461.72,108.78 462.21,110.30 462.71,111.81 463.20,113.28 463.70,114.73 464.19,116.15 464.69,117.54 465.19,118.90 465.68,120.22 466.18,121.50 466.67,122.74 467.17,123.94 467.67,125.09 468.16,126.20 468.66,127.26 469.15,128.27 469.65,129.24 470.15,130.15 470.64,131.00 471.14,131.80 471.63,132.55 472.13,133.24 472.62,133.87 473.12,134.44 473.62,134.95 474.11,135.40 474.61,135.79 475.10,136.12 475.60,136.38 476.10,136.58 476.59,136.72 477.09,136.80 477.58,136.81 478.08,136.75 478.58,136.64 479.07,136.46 479.57,136.21 480.06,135.91 480.56,135.54 481.05,135.11 481.55,134.62 482.05,134.07 482.54,133.46 483.04,132.79 483.53,132.06 484.03,131.28 484.53,130.44 485.02,129.54 485.52,128.60 486.01,127.60 486.51,126.56 487.01,125.47 487.50,124.33 488.00,123.14 488.49,121.92 488.99,120.65 489.48,119.34 489.98,118.00 490.48,116.62 490.97,115.21 491.47,113.77 491.96,112.30 492.46,110.81 492.96,109.29 493.45,107.75 493.95,106.19 494.44,104.62 494.94,103.03 495.44,101.43 495.93,99.82 496.43,98.20 496.92,96.58 497.42,94.96 497.91,93.34 498.41,91.72 498.91,90.11 499.40,88.50 499.90,86.91 500.39,85.33 500.89,83.77 501.39,82.22 501.88,80.70 502.38,79.19 502.87,77.72 503.37,76.27 503.86,74.85 504.36,73.46 504.86,72.10 505.35,70.78 505.85,69.50 506.34,68.26 506.84,67.06 507.34,65.91 507.83,64.80 508.33,63.74 508.82,62.73 509.32,61.76 509.82,60.85 510.31,60.00 510.81,59.20 511.30,58.45 511.80,57.76 512.29,57.13 512.79,56.56 513.29,56.05 513.78,55.60 514.28,55.21 514.77,54.88 515.27,54.62 515.77,54.42 516.26,54.28 516.76,54.20 517.25,54.19 517.75,54.25 518.25,54.36 518.74,54.54 519.24,54.79 519.73,55.09 520.23,55.46 520.72,55.89 521.22,56.38 521.72,56.93 522.21,57.54 522.71,58.21 523.20,58.94 523.70,59.72" stroke="#00f" stroke-width="2.6" fill="none" stroke-linejoin="round"/>
<line x1="127.0" y1="133.75" x2="523.7" y2="133.75" stroke="#000" stroke-width="2" stroke-dasharray="2 3.3" fill="none" stroke-dashoffset="-1.2"/>
<line x1="127.0" y1="95.50" x2="523.7" y2="95.50" stroke="#000" stroke-width="2" stroke-dasharray="2 3.3" fill="none" stroke-dashoffset="-1.2"/>
<line x1="127.0" y1="57.25" x2="523.7" y2="57.25" stroke="#000" stroke-width="2" stroke-dasharray="2 3.3" fill="none" stroke-dashoffset="-1.2"/>
<line x1="206.34" y1="19.0" x2="206.34" y2="172.0" stroke="#000" stroke-width="2" stroke-dasharray="2 3.3" fill="none" stroke-dashoffset="0.5"/>
<line x1="285.68" y1="19.0" x2="285.68" y2="172.0" stroke="#000" stroke-width="2" stroke-dasharray="2 3.3" fill="none" stroke-dashoffset="0.5"/>
<line x1="365.02" y1="19.0" x2="365.02" y2="172.0" stroke="#000" stroke-width="2" stroke-dasharray="2 3.3" fill="none" stroke-dashoffset="0.5"/>
<line x1="444.36" y1="19.0" x2="444.36" y2="172.0" stroke="#000" stroke-width="2" stroke-dasharray="2 3.3" fill="none" stroke-dashoffset="0.5"/>
<line x1="127.0" y1="172.00" x2="132.0" y2="172.00" stroke="#000" stroke-width="2"/>
<line x1="523.7" y1="172.00" x2="518.7" y2="172.00" stroke="#000" stroke-width="2"/>
<line x1="127.0" y1="133.75" x2="132.0" y2="133.75" stroke="#000" stroke-width="2"/>
<line x1="523.7" y1="133.75" x2="518.7" y2="133.75" stroke="#000" stroke-width="2"/>
<line x1="127.0" y1="95.50" x2="132.0" y2="95.50" stroke="#000" stroke-width="2"/>
<line x1="523.7" y1="95.50" x2="518.7" y2="95.50" stroke="#000" stroke-width="2"/>
<line x1="127.0" y1="57.25" x2="132.0" y2="57.25" stroke="#000" stroke-width="2"/>
<line x1="523.7" y1="57.25" x2="518.7" y2="57.25" stroke="#000" stroke-width="2"/>
<line x1="127.0" y1="19.00" x2="132.0" y2="19.00" stroke="#000" stroke-width="2"/>
<line x1="523.7" y1="19.00" x2="518.7" y2="19.00" stroke="#000" stroke-width="2"/>
<line x1="127.00" y1="19.0" x2="127.00" y2="24.0" stroke="#000" stroke-width="2"/>
<line x1="127.00" y1="172.0" x2="127.00" y2="167.0" stroke="#000" stroke-width="2"/>
<line x1="206.34" y1="19.0" x2="206.34" y2="24.0" stroke="#000" stroke-width="2"/>
<line x1="206.34" y1="172.0" x2="206.34" y2="167.0" stroke="#000" stroke-width="2"/>
<line x1="285.68" y1="19.0" x2="285.68" y2="24.0" stroke="#000" stroke-width="2"/>
<line x1="285.68" y1="172.0" x2="285.68" y2="167.0" stroke="#000" stroke-width="2"/>
<line x1="365.02" y1="19.0" x2="365.02" y2="24.0" stroke="#000" stroke-width="2"/>
<line x1="365.02" y1="172.0" x2="365.02" y2="167.0" stroke="#000" stroke-width="2"/>
<line x1="444.36" y1="19.0" x2="444.36" y2="24.0" stroke="#000" stroke-width="2"/>
<line x1="444.36" y1="172.0" x2="444.36" y2="167.0" stroke="#000" stroke-width="2"/>
<line x1="523.70" y1="19.0" x2="523.70" y2="24.0" stroke="#000" stroke-width="2"/>
<line x1="523.70" y1="172.0" x2="523.70" y2="167.0" stroke="#000" stroke-width="2"/>
<rect x="126.9" y="188.5" width="396.70000000000005" height="152.8" fill="none" stroke="#000" stroke-width="2"/>
<polyline points="126.90,264.90 127.40,263.06 127.89,261.21 128.39,259.38 128.88,257.55 129.38,255.73 129.88,253.93 130.37,252.15 130.87,250.38 131.36,248.64 131.86,246.92 132.35,245.23 132.85,243.57 133.35,241.94 133.84,240.35 134.34,238.80 134.83,237.28 135.33,235.81 135.83,234.39 136.32,233.01 136.82,231.68 137.31,230.40 137.81,229.17 138.31,228.00 138.80,226.89 139.30,225.83 139.79,224.84 140.29,223.90 140.78,223.04 141.28,222.23 141.78,221.49 142.27,220.82 142.77,220.21 143.26,219.68 143.76,219.21 144.26,218.82 144.75,218.49 145.25,218.24 145.74,218.06 146.24,217.95 146.74,217.91 147.23,217.95 147.73,218.06 148.22,218.24 148.72,218.49 149.21,218.82 149.71,219.21 150.21,219.68 150.70,220.21 151.20,220.82 151.69,221.49 152.19,222.23 152.69,223.04 153.18,223.90 153.68,224.84 154.17,225.83 154.67,226.89 155.16,228.00 155.66,229.17 156.16,230.40 156.65,231.68 157.15,233.01 157.64,234.39 158.14,235.81 158.64,237.28 159.13,238.80 159.63,240.35 160.12,241.94 160.62,243.57 161.12,245.23 161.61,246.92 162.11,248.64 162.60,250.38 163.10,252.15 163.59,253.93 164.09,255.73 164.59,257.55 165.08,259.38 165.58,261.21 166.07,263.06 166.57,264.90 167.07,266.74 167.56,268.59 168.06,270.42 168.55,272.25 169.05,274.07 169.55,275.87 170.04,277.65 170.54,279.42 171.03,281.16 171.53,282.88 172.02,284.57 172.52,286.23 173.02,287.86 173.51,289.45 174.01,291.00 174.50,292.52 175.00,293.99 175.50,295.41 175.99,296.79 176.49,298.12 176.98,299.40 177.48,300.63 177.98,301.80 178.47,302.91 178.97,303.97 179.46,304.96 179.96,305.90 180.45,306.76 180.95,307.57 181.45,308.31 181.94,308.98 182.44,309.59 182.93,310.12 183.43,310.59 183.93,310.98 184.42,311.31 184.92,311.56 185.41,311.74 185.91,311.85 186.41,311.89 186.90,311.85 187.40,311.74 187.89,311.56 188.39,311.31 188.88,310.98 189.38,310.59 189.88,310.12 190.37,309.59 190.87,308.98 191.36,308.31 191.86,307.57 192.36,306.76 192.85,305.90 193.35,304.96 193.84,303.97 194.34,302.91 194.83,301.80 195.33,300.63 195.83,299.40 196.32,298.12 196.82,296.79 197.31,295.41 197.81,293.99 198.31,292.52 198.80,291.00 199.30,289.45 199.79,287.86 200.29,286.23 200.79,284.57 201.28,282.88 201.78,281.16 202.27,279.42 202.77,277.65 203.26,275.87 203.76,274.07 204.26,272.25 204.75,270.42 205.25,268.59 205.74,266.74 206.24,264.90 206.74,263.06 207.23,261.21 207.73,259.38 208.22,257.55 208.72,255.73 209.22,253.93 209.71,252.15 210.21,250.38 210.70,248.64 211.20,246.92 211.69,245.23 212.19,243.57 212.69,241.94 213.18,240.35 213.68,238.80 214.17,237.28 214.67,235.81 215.17,234.39 215.66,233.01 216.16,231.68 216.65,230.40 217.15,229.17 217.65,228.00 218.14,226.89 218.64,225.83 219.13,224.84 219.63,223.90 220.12,223.04 220.62,222.23 221.12,221.49 221.61,220.82 222.11,220.21 222.60,219.68 223.10,219.21 223.60,218.82 224.09,218.49 224.59,218.24 225.08,218.06 225.58,217.95 226.08,217.91 226.57,217.95 227.07,218.06 227.56,218.24 228.06,218.49 228.55,218.82 229.05,219.21 229.55,219.68 230.04,220.21 230.54,220.82 231.03,221.49 231.53,222.23 232.03,223.04 232.52,223.90 233.02,224.84 233.51,225.83 234.01,226.89 234.50,228.00 235.00,229.17 235.50,230.40 235.99,231.68 236.49,233.01 236.98,234.39 237.48,235.81 237.98,237.28 238.47,238.80 238.97,240.35 239.46,241.94 239.96,243.57 240.46,245.23 240.95,246.92 241.45,248.64 241.94,250.38 242.44,252.15 242.93,253.93 243.43,255.73 243.93,257.55 244.42,259.38 244.92,261.21 245.41,263.06 245.91,264.90 246.41,266.74 246.90,268.59 247.40,270.42 247.89,272.25 248.39,274.07 248.89,275.87 249.38,277.65 249.88,279.42 250.37,281.16 250.87,282.88 251.36,284.57 251.86,286.23 252.36,287.86 252.85,289.45 253.35,291.00 253.84,292.52 254.34,293.99 254.84,295.41 255.33,296.79 255.83,298.12 256.32,299.40 256.82,300.63 257.32,301.80 257.81,302.91 258.31,303.97 258.80,304.96 259.30,305.90 259.79,306.76 260.29,307.57 260.79,308.31 261.28,308.98 261.78,309.59 262.27,310.12 262.77,310.59 263.27,310.98 263.76,311.31 264.26,311.56 264.75,311.74 265.25,311.85 265.75,311.89 266.24,311.85 266.74,311.74 267.23,311.56 267.73,311.31 268.22,310.98 268.72,310.59 269.22,310.12 269.71,309.59 270.21,308.98 270.70,308.31 271.20,307.57 271.70,306.76 272.19,305.90 272.69,304.96 273.18,303.97 273.68,302.91 274.17,301.80 274.67,300.63 275.17,299.40 275.66,298.12 276.16,296.79 276.65,295.41 277.15,293.99 277.65,292.52 278.14,291.00 278.64,289.45 279.13,287.86 279.63,286.23 280.13,284.57 280.62,282.88 281.12,281.16 281.61,279.42 282.11,277.65 282.60,275.87 283.10,274.07 283.60,272.25 284.09,270.42 284.59,268.59 285.08,266.74 285.58,264.90 286.08,263.06 286.57,261.21 287.07,259.38 287.56,257.55 288.06,255.73 288.56,253.93 289.05,252.15 289.55,250.38 290.04,248.64 290.54,246.92 291.03,245.23 291.53,243.57 292.03,241.94 292.52,240.35 293.02,238.80 293.51,237.28 294.01,235.81 294.51,234.39 295.00,233.01 295.50,231.68 295.99,230.40 296.49,229.17 296.99,228.00 297.48,226.89 297.98,225.83 298.47,224.84 298.97,223.90 299.46,223.04 299.96,222.23 300.46,221.49 300.95,220.82 301.45,220.21 301.94,219.68 302.44,219.21 302.94,218.82 303.43,218.49 303.93,218.24 304.42,218.06 304.92,217.95 305.42,217.91 305.91,217.95 306.41,218.06 306.90,218.24 307.40,218.49 307.89,218.82 308.39,219.21 308.89,219.68 309.38,220.21 309.88,220.82 310.37,221.49 310.87,222.23 311.37,223.04 311.86,223.90 312.36,224.84 312.85,225.83 313.35,226.89 313.84,228.00 314.34,229.17 314.84,230.40 315.33,231.68 315.83,233.01 316.32,234.39 316.82,235.81 317.32,237.28 317.81,238.80 318.31,240.35 318.80,241.94 319.30,243.57 319.80,245.23 320.29,246.92 320.79,248.64 321.28,250.38 321.78,252.15 322.27,253.93 322.77,255.73 323.27,257.55 323.76,259.38 324.26,261.21 324.75,263.06 325.25,264.90 325.75,266.74 326.24,268.59 326.74,270.42 327.23,272.25 327.73,274.07 328.23,275.87 328.72,277.65 329.22,279.42 329.71,281.16 330.21,282.88 330.70,284.57 331.20,286.23 331.70,287.86 332.19,289.45 332.69,291.00 333.18,292.52 333.68,293.99 334.18,295.41 334.67,296.79 335.17,298.12 335.66,299.40 336.16,300.63 336.66,301.80 337.15,302.91 337.65,303.97 338.14,304.96 338.64,305.90 339.13,306.76 339.63,307.57 340.13,308.31 340.62,308.98 341.12,309.59 341.61,310.12 342.11,310.59 342.61,310.98 343.10,311.31 343.60,311.56 344.09,311.74 344.59,311.85 345.09,311.89 345.58,311.85 346.08,311.74 346.57,311.56 347.07,311.31 347.56,310.98 348.06,310.59 348.56,310.12 349.05,309.59 349.55,308.98 350.04,308.31 350.54,307.57 351.04,306.76 351.53,305.90 352.03,304.96 352.52,303.97 353.02,302.91 353.51,301.80 354.01,300.63 354.51,299.40 355.00,298.12 355.50,296.79 355.99,295.41 356.49,293.99 356.99,292.52 357.48,291.00 357.98,289.45 358.47,287.86 358.97,286.23 359.47,284.57 359.96,282.88 360.46,281.16 360.95,279.42 361.45,277.65 361.94,275.87 362.44,274.07 362.94,272.25 363.43,270.42 363.93,268.59 364.42,266.74 364.92,264.90 365.42,263.06 365.91,261.21 366.41,259.38 366.90,257.55 367.40,255.73 367.90,253.93 368.39,252.15 368.89,250.38 369.38,248.64 369.88,246.92 370.37,245.23 370.87,243.57 371.37,241.94 371.86,240.35 372.36,238.80 372.85,237.28 373.35,235.81 373.85,234.39 374.34,233.01 374.84,231.68 375.33,230.40 375.83,229.17 376.33,228.00 376.82,226.89 377.32,225.83 377.81,224.84 378.31,223.90 378.80,223.04 379.30,222.23 379.80,221.49 380.29,220.82 380.79,220.21 381.28,219.68 381.78,219.21 382.28,218.82 382.77,218.49 383.27,218.24 383.76,218.06 384.26,217.95 384.75,217.91 385.25,217.95 385.75,218.06 386.24,218.24 386.74,218.49 387.23,218.82 387.73,219.21 388.23,219.68 388.72,220.21 389.22,220.82 389.71,221.49 390.21,222.23 390.71,223.04 391.20,223.90 391.70,224.84 392.19,225.83 392.69,226.89 393.18,228.00 393.68,229.17 394.18,230.40 394.67,231.68 395.17,233.01 395.66,234.39 396.16,235.81 396.66,237.28 397.15,238.80 397.65,240.35 398.14,241.94 398.64,243.57 399.14,245.23 399.63,246.92 400.13,248.64 400.62,250.38 401.12,252.15 401.61,253.93 402.11,255.73 402.61,257.55 403.10,259.38 403.60,261.21 404.09,263.06 404.59,264.90 405.09,266.74 405.58,268.59 406.08,270.42 406.57,272.25 407.07,274.07 407.57,275.87 408.06,277.65 408.56,279.42 409.05,281.16 409.55,282.88 410.04,284.57 410.54,286.23 411.04,287.86 411.53,289.45 412.03,291.00 412.52,292.52 413.02,293.99 413.52,295.41 414.01,296.79 414.51,298.12 415.00,299.40 415.50,300.63 416.00,301.80 416.49,302.91 416.99,303.97 417.48,304.96 417.98,305.90 418.47,306.76 418.97,307.57 419.47,308.31 419.96,308.98 420.46,309.59 420.95,310.12 421.45,310.59 421.95,310.98 422.44,311.31 422.94,311.56 423.43,311.74 423.93,311.85 424.42,311.89 424.92,311.85 425.42,311.74 425.91,311.56 426.41,311.31 426.90,310.98 427.40,310.59 427.90,310.12 428.39,309.59 428.89,308.98 429.38,308.31 429.88,307.57 430.38,306.76 430.87,305.90 431.37,304.96 431.86,303.97 432.36,302.91 432.85,301.80 433.35,300.63 433.85,299.40 434.34,298.12 434.84,296.79 435.33,295.41 435.83,293.99 436.33,292.52 436.82,291.00 437.32,289.45 437.81,287.86 438.31,286.23 438.81,284.57 439.30,282.88 439.80,281.16 440.29,279.42 440.79,277.65 441.28,275.87 441.78,274.07 442.28,272.25 442.77,270.42 443.27,268.59 443.76,266.74 444.26,264.90 444.76,263.06 445.25,261.21 445.75,259.38 446.24,257.55 446.74,255.73 447.24,253.93 447.73,252.15 448.23,250.38 448.72,248.64 449.22,246.92 449.71,245.23 450.21,243.57 450.71,241.94 451.20,240.35 451.70,238.80 452.19,237.28 452.69,235.81 453.19,234.39 453.68,233.01 454.18,231.68 454.67,230.40 455.17,229.17 455.67,228.00 456.16,226.89 456.66,225.83 457.15,224.84 457.65,223.90 458.14,223.04 458.64,222.23 459.14,221.49 459.63,220.82 460.13,220.21 460.62,219.68 461.12,219.21 461.62,218.82 462.11,218.49 462.61,218.24 463.10,218.06 463.60,217.95 464.09,217.91 464.59,217.95 465.09,218.06 465.58,218.24 466.08,218.49 466.57,218.82 467.07,219.21 467.57,219.68 468.06,220.21 468.56,220.82 469.05,221.49 469.55,222.23 470.05,223.04 470.54,223.90 471.04,224.84 471.53,225.83 472.03,226.89 472.52,228.00 473.02,229.17 473.52,230.40 474.01,231.68 474.51,233.01 475.00,234.39 475.50,235.81 476.00,237.28 476.49,238.80 476.99,240.35 477.48,241.94 477.98,243.57 478.48,245.23 478.97,246.92 479.47,248.64 479.96,250.38 480.46,252.15 480.95,253.93 481.45,255.73 481.95,257.55 482.44,259.38 482.94,261.21 483.43,263.06 483.93,264.90 484.43,266.74 484.92,268.59 485.42,270.42 485.91,272.25 486.41,274.07 486.91,275.87 487.40,277.65 487.90,279.42 488.39,281.16 488.89,282.88 489.38,284.57 489.88,286.23 490.38,287.86 490.87,289.45 491.37,291.00 491.86,292.52 492.36,293.99 492.86,295.41 493.35,296.79 493.85,298.12 494.34,299.40 494.84,300.63 495.34,301.80 495.83,302.91 496.33,303.97 496.82,304.96 497.32,305.90 497.81,306.76 498.31,307.57 498.81,308.31 499.30,308.98 499.80,309.59 500.29,310.12 500.79,310.59 501.29,310.98 501.78,311.31 502.28,311.56 502.77,311.74 503.27,311.85 503.76,311.89 504.26,311.85 504.76,311.74 505.25,311.56 505.75,311.31 506.24,310.98 506.74,310.59 507.24,310.12 507.73,309.59 508.23,308.98 508.72,308.31 509.22,307.57 509.72,306.76 510.21,305.90 510.71,304.96 511.20,303.97 511.70,302.91 512.19,301.80 512.69,300.63 513.19,299.40 513.68,298.12 514.18,296.79 514.67,295.41 515.17,293.99 515.67,292.52 516.16,291.00 516.66,289.45 517.15,287.86 517.65,286.23 518.15,284.57 518.64,282.88 519.14,281.16 519.63,279.42 520.13,277.65 520.62,275.87 521.12,274.07 521.62,272.25 522.11,270.42 522.61,268.59 523.10,266.74 523.60,264.90" stroke="#f00" stroke-width="2.6" fill="none" stroke-linejoin="round"/>
<polyline points="126.90,305.59 127.40,306.48 127.89,307.31 128.39,308.07 128.88,308.77 129.38,309.39 129.88,309.95 130.37,310.44 130.87,310.86 131.36,311.21 131.86,311.48 132.35,311.69 132.85,311.82 133.35,311.88 133.84,311.87 134.34,311.79 134.83,311.63 135.33,311.40 135.83,311.10 136.32,310.73 136.82,310.28 137.31,309.77 137.81,309.19 138.31,308.54 138.80,307.82 139.30,307.04 139.79,306.19 140.29,305.28 140.78,304.31 141.28,303.27 141.78,302.18 142.27,301.02 142.77,299.82 143.26,298.56 143.76,297.24 144.26,295.88 144.75,294.47 145.25,293.01 145.74,291.51 146.24,289.97 146.74,288.39 147.23,286.78 147.73,285.13 148.22,283.45 148.72,281.74 149.21,280.00 149.71,278.24 150.21,276.47 150.70,274.67 151.20,272.86 151.69,271.03 152.19,269.20 152.69,267.36 153.18,265.52 153.68,263.67 154.17,261.83 154.67,259.99 155.16,258.16 155.66,256.34 156.16,254.53 156.65,252.74 157.15,250.97 157.64,249.22 158.14,247.49 158.64,245.79 159.13,244.12 159.63,242.48 160.12,240.88 160.62,239.31 161.12,237.78 161.61,236.30 162.11,234.86 162.60,233.46 163.10,232.11 163.59,230.82 164.09,229.57 164.59,228.39 165.08,227.25 165.58,226.18 166.07,225.16 166.57,224.21 167.07,223.32 167.56,222.49 168.06,221.73 168.55,221.03 169.05,220.41 169.55,219.85 170.04,219.36 170.54,218.94 171.03,218.59 171.53,218.32 172.02,218.11 172.52,217.98 173.02,217.92 173.51,217.93 174.01,218.01 174.50,218.17 175.00,218.40 175.50,218.70 175.99,219.07 176.49,219.52 176.98,220.03 177.48,220.61 177.98,221.26 178.47,221.98 178.97,222.76 179.46,223.61 179.96,224.52 180.45,225.49 180.95,226.53 181.45,227.62 181.94,228.78 182.44,229.98 182.93,231.24 183.43,232.56 183.93,233.92 184.42,235.33 184.92,236.79 185.41,238.29 185.91,239.83 186.41,241.41 186.90,243.02 187.40,244.67 187.89,246.35 188.39,248.06 188.88,249.80 189.38,251.56 189.88,253.33 190.37,255.13 190.87,256.94 191.36,258.77 191.86,260.60 192.36,262.44 192.85,264.28 193.35,266.13 193.84,267.97 194.34,269.81 194.83,271.64 195.33,273.46 195.83,275.27 196.32,277.06 196.82,278.83 197.31,280.58 197.81,282.31 198.31,284.01 198.80,285.68 199.30,287.32 199.79,288.92 200.29,290.49 200.79,292.02 201.28,293.50 201.78,294.94 202.27,296.34 202.77,297.69 203.26,298.98 203.76,300.23 204.26,301.41 204.75,302.55 205.25,303.62 205.74,304.64 206.24,305.59 206.74,306.48 207.23,307.31 207.73,308.07 208.22,308.77 208.72,309.39 209.22,309.95 209.71,310.44 210.21,310.86 210.70,311.21 211.20,311.48 211.69,311.69 212.19,311.82 212.69,311.88 213.18,311.87 213.68,311.79 214.17,311.63 214.67,311.40 215.17,311.10 215.66,310.73 216.16,310.28 216.65,309.77 217.15,309.19 217.65,308.54 218.14,307.82 218.64,307.04 219.13,306.19 219.63,305.28 220.12,304.31 220.62,303.27 221.12,302.18 221.61,301.02 222.11,299.82 222.60,298.56 223.10,297.24 223.60,295.88 224.09,294.47 224.59,293.01 225.08,291.51 225.58,289.97 226.08,288.39 226.57,286.78 227.07,285.13 227.56,283.45 228.06,281.74 228.55,280.00 229.05,278.24 229.55,276.47 230.04,274.67 230.54,272.86 231.03,271.03 231.53,269.20 232.03,267.36 232.52,265.52 233.02,263.67 233.51,261.83 234.01,259.99 234.50,258.16 235.00,256.34 235.50,254.53 235.99,252.74 236.49,250.97 236.98,249.22 237.48,247.49 237.98,245.79 238.47,244.12 238.97,242.48 239.46,240.88 239.96,239.31 240.46,237.78 240.95,236.30 241.45,234.86 241.94,233.46 242.44,232.11 242.93,230.82 243.43,229.57 243.93,228.39 244.42,227.25 244.92,226.18 245.41,225.16 245.91,224.21 246.41,223.32 246.90,222.49 247.40,221.73 247.89,221.03 248.39,220.41 248.89,219.85 249.38,219.36 249.88,218.94 250.37,218.59 250.87,218.32 251.36,218.11 251.86,217.98 252.36,217.92 252.85,217.93 253.35,218.01 253.84,218.17 254.34,218.40 254.84,218.70 255.33,219.07 255.83,219.52 256.32,220.03 256.82,220.61 257.32,221.26 257.81,221.98 258.31,222.76 258.80,223.61 259.30,224.52 259.79,225.49 260.29,226.53 260.79,227.62 261.28,228.78 261.78,229.98 262.27,231.24 262.77,232.56 263.27,233.92 263.76,235.33 264.26,236.79 264.75,238.29 265.25,239.83 265.75,241.41 266.24,243.02 266.74,244.67 267.23,246.35 267.73,248.06 268.22,249.80 268.72,251.56 269.22,253.33 269.71,255.13 270.21,256.94 270.70,258.77 271.20,260.60 271.70,262.44 272.19,264.28 272.69,266.13 273.18,267.97 273.68,269.81 274.17,271.64 274.67,273.46 275.17,275.27 275.66,277.06 276.16,278.83 276.65,280.58 277.15,282.31 277.65,284.01 278.14,285.68 278.64,287.32 279.13,288.92 279.63,290.49 280.13,292.02 280.62,293.50 281.12,294.94 281.61,296.34 282.11,297.69 282.60,298.98 283.10,300.23 283.60,301.41 284.09,302.55 284.59,303.62 285.08,304.64 285.58,305.59 286.08,306.48 286.57,307.31 287.07,308.07 287.56,308.77 288.06,309.39 288.56,309.95 289.05,310.44 289.55,310.86 290.04,311.21 290.54,311.48 291.03,311.69 291.53,311.82 292.03,311.88 292.52,311.87 293.02,311.79 293.51,311.63 294.01,311.40 294.51,311.10 295.00,310.73 295.50,310.28 295.99,309.77 296.49,309.19 296.99,308.54 297.48,307.82 297.98,307.04 298.47,306.19 298.97,305.28 299.46,304.31 299.96,303.27 300.46,302.18 300.95,301.02 301.45,299.82 301.94,298.56 302.44,297.24 302.94,295.88 303.43,294.47 303.93,293.01 304.42,291.51 304.92,289.97 305.42,288.39 305.91,286.78 306.41,285.13 306.90,283.45 307.40,281.74 307.89,280.00 308.39,278.24 308.89,276.47 309.38,274.67 309.88,272.86 310.37,271.03 310.87,269.20 311.37,267.36 311.86,265.52 312.36,263.67 312.85,261.83 313.35,259.99 313.84,258.16 314.34,256.34 314.84,254.53 315.33,252.74 315.83,250.97 316.32,249.22 316.82,247.49 317.32,245.79 317.81,244.12 318.31,242.48 318.80,240.88 319.30,239.31 319.80,237.78 320.29,236.30 320.79,234.86 321.28,233.46 321.78,232.11 322.27,230.82 322.77,229.57 323.27,228.39 323.76,227.25 324.26,226.18 324.75,225.16 325.25,224.21 325.75,223.32 326.24,222.49 326.74,221.73 327.23,221.03 327.73,220.41 328.23,219.85 328.72,219.36 329.22,218.94 329.71,218.59 330.21,218.32 330.70,218.11 331.20,217.98 331.70,217.92 332.19,217.93 332.69,218.01 333.18,218.17 333.68,218.40 334.18,218.70 334.67,219.07 335.17,219.52 335.66,220.03 336.16,220.61 336.66,221.26 337.15,221.98 337.65,222.76 338.14,223.61 338.64,224.52 339.13,225.49 339.63,226.53 340.13,227.62 340.62,228.78 341.12,229.98 341.61,231.24 342.11,232.56 342.61,233.92 343.10,235.33 343.60,236.79 344.09,238.29 344.59,239.83 345.09,241.41 345.58,243.02 346.08,244.67 346.57,246.35 347.07,248.06 347.56,249.80 348.06,251.56 348.56,253.33 349.05,255.13 349.55,256.94 350.04,258.77 350.54,260.60 351.04,262.44 351.53,264.28 352.03,266.13 352.52,267.97 353.02,269.81 353.51,271.64 354.01,273.46 354.51,275.27 355.00,277.06 355.50,278.83 355.99,280.58 356.49,282.31 356.99,284.01 357.48,285.68 357.98,287.32 358.47,288.92 358.97,290.49 359.47,292.02 359.96,293.50 360.46,294.94 360.95,296.34 361.45,297.69 361.94,298.98 362.44,300.23 362.94,301.41 363.43,302.55 363.93,303.62 364.42,304.64 364.92,305.59 365.42,306.48 365.91,307.31 366.41,308.07 366.90,308.77 367.40,309.39 367.90,309.95 368.39,310.44 368.89,310.86 369.38,311.21 369.88,311.48 370.37,311.69 370.87,311.82 371.37,311.88 371.86,311.87 372.36,311.79 372.85,311.63 373.35,311.40 373.85,311.10 374.34,310.73 374.84,310.28 375.33,309.77 375.83,309.19 376.33,308.54 376.82,307.82 377.32,307.04 377.81,306.19 378.31,305.28 378.80,304.31 379.30,303.27 379.80,302.18 380.29,301.02 380.79,299.82 381.28,298.56 381.78,297.24 382.28,295.88 382.77,294.47 383.27,293.01 383.76,291.51 384.26,289.97 384.75,288.39 385.25,286.78 385.75,285.13 386.24,283.45 386.74,281.74 387.23,280.00 387.73,278.24 388.23,276.47 388.72,274.67 389.22,272.86 389.71,271.03 390.21,269.20 390.71,267.36 391.20,265.52 391.70,263.67 392.19,261.83 392.69,259.99 393.18,258.16 393.68,256.34 394.18,254.53 394.67,252.74 395.17,250.97 395.66,249.22 396.16,247.49 396.66,245.79 397.15,244.12 397.65,242.48 398.14,240.88 398.64,239.31 399.14,237.78 399.63,236.30 400.13,234.86 400.62,233.46 401.12,232.11 401.61,230.82 402.11,229.57 402.61,228.39 403.10,227.25 403.60,226.18 404.09,225.16 404.59,224.21 405.09,223.32 405.58,222.49 406.08,221.73 406.57,221.03 407.07,220.41 407.57,219.85 408.06,219.36 408.56,218.94 409.05,218.59 409.55,218.32 410.04,218.11 410.54,217.98 411.04,217.92 411.53,217.93 412.03,218.01 412.52,218.17 413.02,218.40 413.52,218.70 414.01,219.07 414.51,219.52 415.00,220.03 415.50,220.61 416.00,221.26 416.49,221.98 416.99,222.76 417.48,223.61 417.98,224.52 418.47,225.49 418.97,226.53 419.47,227.62 419.96,228.78 420.46,229.98 420.95,231.24 421.45,232.56 421.95,233.92 422.44,235.33 422.94,236.79 423.43,238.29 423.93,239.83 424.42,241.41 424.92,243.02 425.42,244.67 425.91,246.35 426.41,248.06 426.90,249.80 427.40,251.56 427.90,253.33 428.39,255.13 428.89,256.94 429.38,258.77 429.88,260.60 430.38,262.44 430.87,264.28 431.37,266.13 431.86,267.97 432.36,269.81 432.85,271.64 433.35,273.46 433.85,275.27 434.34,277.06 434.84,278.83 435.33,280.58 435.83,282.31 436.33,284.01 436.82,285.68 437.32,287.32 437.81,288.92 438.31,290.49 438.81,292.02 439.30,293.50 439.80,294.94 440.29,296.34 440.79,297.69 441.28,298.98 441.78,300.23 442.28,301.41 442.77,302.55 443.27,303.62 443.76,304.64 444.26,305.59 444.76,306.48 445.25,307.31 445.75,308.07 446.24,308.77 446.74,309.39 447.24,309.95 447.73,310.44 448.23,310.86 448.72,311.21 449.22,311.48 449.71,311.69 450.21,311.82 450.71,311.88 451.20,311.87 451.70,311.79 452.19,311.63 452.69,311.40 453.19,311.10 453.68,310.73 454.18,310.28 454.67,309.77 455.17,309.19 455.67,308.54 456.16,307.82 456.66,307.04 457.15,306.19 457.65,305.28 458.14,304.31 458.64,303.27 459.14,302.18 459.63,301.02 460.13,299.82 460.62,298.56 461.12,297.24 461.62,295.88 462.11,294.47 462.61,293.01 463.10,291.51 463.60,289.97 464.09,288.39 464.59,286.78 465.09,285.13 465.58,283.45 466.08,281.74 466.57,280.00 467.07,278.24 467.57,276.47 468.06,274.67 468.56,272.86 469.05,271.03 469.55,269.20 470.05,267.36 470.54,265.52 471.04,263.67 471.53,261.83 472.03,259.99 472.52,258.16 473.02,256.34 473.52,254.53 474.01,252.74 474.51,250.97 475.00,249.22 475.50,247.49 476.00,245.79 476.49,244.12 476.99,242.48 477.48,240.88 477.98,239.31 478.48,237.78 478.97,236.30 479.47,234.86 479.96,233.46 480.46,232.11 480.95,230.82 481.45,229.57 481.95,228.39 482.44,227.25 482.94,226.18 483.43,225.16 483.93,224.21 484.43,223.32 484.92,222.49 485.42,221.73 485.91,221.03 486.41,220.41 486.91,219.85 487.40,219.36 487.90,218.94 488.39,218.59 488.89,218.32 489.38,218.11 489.88,217.98 490.38,217.92 490.87,217.93 491.37,218.01 491.86,218.17 492.36,218.40 492.86,218.70 493.35,219.07 493.85,219.52 494.34,220.03 494.84,220.61 495.34,221.26 495.83,221.98 496.33,222.76 496.82,223.61 497.32,224.52 497.81,225.49 498.31,226.53 498.81,227.62 499.30,228.78 499.80,229.98 500.29,231.24 500.79,232.56 501.29,233.92 501.78,235.33 502.28,236.79 502.77,238.29 503.27,239.83 503.76,241.41 504.26,243.02 504.76,244.67 505.25,246.35 505.75,248.06 506.24,249.80 506.74,251.56 507.24,253.33 507.73,255.13 508.23,256.94 508.72,258.77 509.22,260.60 509.72,262.44 510.21,264.28 510.71,266.13 511.20,267.97 511.70,269.81 512.19,271.64 512.69,273.46 513.19,275.27 513.68,277.06 514.18,278.83 514.67,280.58 515.17,282.31 515.67,284.01 516.16,285.68 516.66,287.32 517.15,288.92 517.65,290.49 518.15,292.02 518.64,293.50 519.14,294.94 519.63,296.34 520.13,297.69 520.62,298.98 521.12,300.23 521.62,301.41 522.11,302.55 522.61,303.62 523.10,304.64 523.60,305.59" stroke="#0f0" stroke-width="2.6" fill="none" stroke-linejoin="round"/>
<polyline points="126.90,224.21 127.40,225.16 127.89,226.18 128.39,227.25 128.88,228.39 129.38,229.57 129.88,230.82 130.37,232.11 130.87,233.46 131.36,234.86 131.86,236.30 132.35,237.78 132.85,239.31 133.35,240.88 133.84,242.48 134.34,244.12 134.83,245.79 135.33,247.49 135.83,249.22 136.32,250.97 136.82,252.74 137.31,254.53 137.81,256.34 138.31,258.16 138.80,259.99 139.30,261.83 139.79,263.67 140.29,265.52 140.78,267.36 141.28,269.20 141.78,271.03 142.27,272.86 142.77,274.67 143.26,276.47 143.76,278.24 144.26,280.00 144.75,281.74 145.25,283.45 145.74,285.13 146.24,286.78 146.74,288.39 147.23,289.97 147.73,291.51 148.22,293.01 148.72,294.47 149.21,295.88 149.71,297.24 150.21,298.56 150.70,299.82 151.20,301.02 151.69,302.18 152.19,303.27 152.69,304.31 153.18,305.28 153.68,306.19 154.17,307.04 154.67,307.82 155.16,308.54 155.66,309.19 156.16,309.77 156.65,310.28 157.15,310.73 157.64,311.10 158.14,311.40 158.64,311.63 159.13,311.79 159.63,311.87 160.12,311.88 160.62,311.82 161.12,311.69 161.61,311.48 162.11,311.21 162.60,310.86 163.10,310.44 163.59,309.95 164.09,309.39 164.59,308.77 165.08,308.07 165.58,307.31 166.07,306.48 166.57,305.59 167.07,304.64 167.56,303.62 168.06,302.55 168.55,301.41 169.05,300.23 169.55,298.98 170.04,297.69 170.54,296.34 171.03,294.94 171.53,293.50 172.02,292.02 172.52,290.49 173.02,288.92 173.51,287.32 174.01,285.68 174.50,284.01 175.00,282.31 175.50,280.58 175.99,278.83 176.49,277.06 176.98,275.27 177.48,273.46 177.98,271.64 178.47,269.81 178.97,267.97 179.46,266.13 179.96,264.28 180.45,262.44 180.95,260.60 181.45,258.77 181.94,256.94 182.44,255.13 182.93,253.33 183.43,251.56 183.93,249.80 184.42,248.06 184.92,246.35 185.41,244.67 185.91,243.02 186.41,241.41 186.90,239.83 187.40,238.29 187.89,236.79 188.39,235.33 188.88,233.92 189.38,232.56 189.88,231.24 190.37,229.98 190.87,228.78 191.36,227.62 191.86,226.53 192.36,225.49 192.85,224.52 193.35,223.61 193.84,222.76 194.34,221.98 194.83,221.26 195.33,220.61 195.83,220.03 196.32,219.52 196.82,219.07 197.31,218.70 197.81,218.40 198.31,218.17 198.80,218.01 199.30,217.93 199.79,217.92 200.29,217.98 200.79,218.11 201.28,218.32 201.78,218.59 202.27,218.94 202.77,219.36 203.26,219.85 203.76,220.41 204.26,221.03 204.75,221.73 205.25,222.49 205.74,223.32 206.24,224.21 206.74,225.16 207.23,226.18 207.73,227.25 208.22,228.39 208.72,229.57 209.22,230.82 209.71,232.11 210.21,233.46 210.70,234.86 211.20,236.30 211.69,237.78 212.19,239.31 212.69,240.88 213.18,242.48 213.68,244.12 214.17,245.79 214.67,247.49 215.17,249.22 215.66,250.97 216.16,252.74 216.65,254.53 217.15,256.34 217.65,258.16 218.14,259.99 218.64,261.83 219.13,263.67 219.63,265.52 220.12,267.36 220.62,269.20 221.12,271.03 221.61,272.86 222.11,274.67 222.60,276.47 223.10,278.24 223.60,280.00 224.09,281.74 224.59,283.45 225.08,285.13 225.58,286.78 226.08,288.39 226.57,289.97 227.07,291.51 227.56,293.01 228.06,294.47 228.55,295.88 229.05,297.24 229.55,298.56 230.04,299.82 230.54,301.02 231.03,302.18 231.53,303.27 232.03,304.31 232.52,305.28 233.02,306.19 233.51,307.04 234.01,307.82 234.50,308.54 235.00,309.19 235.50,309.77 235.99,310.28 236.49,310.73 236.98,311.10 237.48,311.40 237.98,311.63 238.47,311.79 238.97,311.87 239.46,311.88 239.96,311.82 240.46,311.69 240.95,311.48 241.45,311.21 241.94,310.86 242.44,310.44 242.93,309.95 243.43,309.39 243.93,308.77 244.42,308.07 244.92,307.31 245.41,306.48 245.91,305.59 246.41,304.64 246.90,303.62 247.40,302.55 247.89,301.41 248.39,300.23 248.89,298.98 249.38,297.69 249.88,296.34 250.37,294.94 250.87,293.50 251.36,292.02 251.86,290.49 252.36,288.92 252.85,287.32 253.35,285.68 253.84,284.01 254.34,282.31 254.84,280.58 255.33,278.83 255.83,277.06 256.32,275.27 256.82,273.46 257.32,271.64 257.81,269.81 258.31,267.97 258.80,266.13 259.30,264.28 259.79,262.44 260.29,260.60 260.79,258.77 261.28,256.94 261.78,255.13 262.27,253.33 262.77,251.56 263.27,249.80 263.76,248.06 264.26,246.35 264.75,244.67 265.25,243.02 265.75,241.41 266.24,239.83 266.74,238.29 267.23,236.79 267.73,235.33 268.22,233.92 268.72,232.56 269.22,231.24 269.71,229.98 270.21,228.78 270.70,227.62 271.20,226.53 271.70,225.49 272.19,224.52 272.69,223.61 273.18,222.76 273.68,221.98 274.17,221.26 274.67,220.61 275.17,220.03 275.66,219.52 276.16,219.07 276.65,218.70 277.15,218.40 277.65,218.17 278.14,218.01 278.64,217.93 279.13,217.92 279.63,217.98 280.13,218.11 280.62,218.32 281.12,218.59 281.61,218.94 282.11,219.36 282.60,219.85 283.10,220.41 283.60,221.03 284.09,221.73 284.59,222.49 285.08,223.32 285.58,224.21 286.08,225.16 286.57,226.18 287.07,227.25 287.56,228.39 288.06,229.57 288.56,230.82 289.05,232.11 289.55,233.46 290.04,234.86 290.54,236.30 291.03,237.78 291.53,239.31 292.03,240.88 292.52,242.48 293.02,244.12 293.51,245.79 294.01,247.49 294.51,249.22 295.00,250.97 295.50,252.74 295.99,254.53 296.49,256.34 296.99,258.16 297.48,259.99 297.98,261.83 298.47,263.67 298.97,265.52 299.46,267.36 299.96,269.20 300.46,271.03 300.95,272.86 301.45,274.67 301.94,276.47 302.44,278.24 302.94,280.00 303.43,281.74 303.93,283.45 304.42,285.13 304.92,286.78 305.42,288.39 305.91,289.97 306.41,291.51 306.90,293.01 307.40,294.47 307.89,295.88 308.39,297.24 308.89,298.56 309.38,299.82 309.88,301.02 310.37,302.18 310.87,303.27 311.37,304.31 311.86,305.28 312.36,306.19 312.85,307.04 313.35,307.82 313.84,308.54 314.34,309.19 314.84,309.77 315.33,310.28 315.83,310.73 316.32,311.10 316.82,311.40 317.32,311.63 317.81,311.79 318.31,311.87 318.80,311.88 319.30,311.82 319.80,311.69 320.29,311.48 320.79,311.21 321.28,310.86 321.78,310.44 322.27,309.95 322.77,309.39 323.27,308.77 323.76,308.07 324.26,307.31 324.75,306.48 325.25,305.59 325.75,304.64 326.24,303.62 326.74,302.55 327.23,301.41 327.73,300.23 328.23,298.98 328.72,297.69 329.22,296.34 329.71,294.94 330.21,293.50 330.70,292.02 331.20,290.49 331.70,288.92 332.19,287.32 332.69,285.68 333.18,284.01 333.68,282.31 334.18,280.58 334.67,278.83 335.17,277.06 335.66,275.27 336.16,273.46 336.66,271.64 337.15,269.81 337.65,267.97 338.14,266.13 338.64,264.28 339.13,262.44 339.63,260.60 340.13,258.77 340.62,256.94 341.12,255.13 341.61,253.33 342.11,251.56 342.61,249.80 343.10,248.06 343.60,246.35 344.09,244.67 344.59,243.02 345.09,241.41 345.58,239.83 346.08,238.29 346.57,236.79 347.07,235.33 347.56,233.92 348.06,232.56 348.56,231.24 349.05,229.98 349.55,228.78 350.04,227.62 350.54,226.53 351.04,225.49 351.53,224.52 352.03,223.61 352.52,222.76 353.02,221.98 353.51,221.26 354.01,220.61 354.51,220.03 355.00,219.52 355.50,219.07 355.99,218.70 356.49,218.40 356.99,218.17 357.48,218.01 357.98,217.93 358.47,217.92 358.97,217.98 359.47,218.11 359.96,218.32 360.46,218.59 360.95,218.94 361.45,219.36 361.94,219.85 362.44,220.41 362.94,221.03 363.43,221.73 363.93,222.49 364.42,223.32 364.92,224.21 365.42,225.16 365.91,226.18 366.41,227.25 366.90,228.39 367.40,229.57 367.90,230.82 368.39,232.11 368.89,233.46 369.38,234.86 369.88,236.30 370.37,237.78 370.87,239.31 371.37,240.88 371.86,242.48 372.36,244.12 372.85,245.79 373.35,247.49 373.85,249.22 374.34,250.97 374.84,252.74 375.33,254.53 375.83,256.34 376.33,258.16 376.82,259.99 377.32,261.83 377.81,263.67 378.31,265.52 378.80,267.36 379.30,269.20 379.80,271.03 380.29,272.86 380.79,274.67 381.28,276.47 381.78,278.24 382.28,280.00 382.77,281.74 383.27,283.45 383.76,285.13 384.26,286.78 384.75,288.39 385.25,289.97 385.75,291.51 386.24,293.01 386.74,294.47 387.23,295.88 387.73,297.24 388.23,298.56 388.72,299.82 389.22,301.02 389.71,302.18 390.21,303.27 390.71,304.31 391.20,305.28 391.70,306.19 392.19,307.04 392.69,307.82 393.18,308.54 393.68,309.19 394.18,309.77 394.67,310.28 395.17,310.73 395.66,311.10 396.16,311.40 396.66,311.63 397.15,311.79 397.65,311.87 398.14,311.88 398.64,311.82 399.14,311.69 399.63,311.48 400.13,311.21 400.62,310.86 401.12,310.44 401.61,309.95 402.11,309.39 402.61,308.77 403.10,308.07 403.60,307.31 404.09,306.48 404.59,305.59 405.09,304.64 405.58,303.62 406.08,302.55 406.57,301.41 407.07,300.23 407.57,298.98 408.06,297.69 408.56,296.34 409.05,294.94 409.55,293.50 410.04,292.02 410.54,290.49 411.04,288.92 411.53,287.32 412.03,285.68 412.52,284.01 413.02,282.31 413.52,280.58 414.01,278.83 414.51,277.06 415.00,275.27 415.50,273.46 416.00,271.64 416.49,269.81 416.99,267.97 417.48,266.13 417.98,264.28 418.47,262.44 418.97,260.60 419.47,258.77 419.96,256.94 420.46,255.13 420.95,253.33 421.45,251.56 421.95,249.80 422.44,248.06 422.94,246.35 423.43,244.67 423.93,243.02 424.42,241.41 424.92,239.83 425.42,238.29 425.91,236.79 426.41,235.33 426.90,233.92 427.40,232.56 427.90,231.24 428.39,229.98 428.89,228.78 429.38,227.62 429.88,226.53 430.38,225.49 430.87,224.52 431.37,223.61 431.86,222.76 432.36,221.98 432.85,221.26 433.35,220.61 433.85,220.03 434.34,219.52 434.84,219.07 435.33,218.70 435.83,218.40 436.33,218.17 436.82,218.01 437.32,217.93 437.81,217.92 438.31,217.98 438.81,218.11 439.30,218.32 439.80,218.59 440.29,218.94 440.79,219.36 441.28,219.85 441.78,220.41 442.28,221.03 442.77,221.73 443.27,222.49 443.76,223.32 444.26,224.21 444.76,225.16 445.25,226.18 445.75,227.25 446.24,228.39 446.74,229.57 447.24,230.82 447.73,232.11 448.23,233.46 448.72,234.86 449.22,236.30 449.71,237.78 450.21,239.31 450.71,240.88 451.20,242.48 451.70,244.12 452.19,245.79 452.69,247.49 453.19,249.22 453.68,250.97 454.18,252.74 454.67,254.53 455.17,256.34 455.67,258.16 456.16,259.99 456.66,261.83 457.15,263.67 457.65,265.52 458.14,267.36 458.64,269.20 459.14,271.03 459.63,272.86 460.13,274.67 460.62,276.47 461.12,278.24 461.62,280.00 462.11,281.74 462.61,283.45 463.10,285.13 463.60,286.78 464.09,288.39 464.59,289.97 465.09,291.51 465.58,293.01 466.08,294.47 466.57,295.88 467.07,297.24 467.57,298.56 468.06,299.82 468.56,301.02 469.05,302.18 469.55,303.27 470.05,304.31 470.54,305.28 471.04,306.19 471.53,307.04 472.03,307.82 472.52,308.54 473.02,309.19 473.52,309.77 474.01,310.28 474.51,310.73 475.00,311.10 475.50,311.40 476.00,311.63 476.49,311.79 476.99,311.87 477.48,311.88 477.98,311.82 478.48,311.69 478.97,311.48 479.47,311.21 479.96,310.86 480.46,310.44 480.95,309.95 481.45,309.39 481.95,308.77 482.44,308.07 482.94,307.31 483.43,306.48 483.93,305.59 484.43,304.64 484.92,303.62 485.42,302.55 485.91,301.41 486.41,300.23 486.91,298.98 487.40,297.69 487.90,296.34 488.39,294.94 488.89,293.50 489.38,292.02 489.88,290.49 490.38,288.92 490.87,287.32 491.37,285.68 491.86,284.01 492.36,282.31 492.86,280.58 493.35,278.83 493.85,277.06 494.34,275.27 494.84,273.46 495.34,271.64 495.83,269.81 496.33,267.97 496.82,266.13 497.32,264.28 497.81,262.44 498.31,260.60 498.81,258.77 499.30,256.94 499.80,255.13 500.29,253.33 500.79,251.56 501.29,249.80 501.78,248.06 502.28,246.35 502.77,244.67 503.27,243.02 503.76,241.41 504.26,239.83 504.76,238.29 505.25,236.79 505.75,235.33 506.24,233.92 506.74,232.56 507.24,231.24 507.73,229.98 508.23,228.78 508.72,227.62 509.22,226.53 509.72,225.49 510.21,224.52 510.71,223.61 511.20,222.76 511.70,221.98 512.19,221.26 512.69,220.61 513.19,220.03 513.68,219.52 514.18,219.07 514.67,218.70 515.17,218.40 515.67,218.17 516.16,218.01 516.66,217.93 517.15,217.92 517.65,217.98 518.15,218.11 518.64,218.32 519.14,218.59 519.63,218.94 520.13,219.36 520.62,219.85 521.12,220.41 521.62,221.03 522.11,221.73 522.61,222.49 523.10,223.32 523.60,224.21" stroke="#00f" stroke-width="2.6" fill="none" stroke-linejoin="round"/>
<line x1="126.9" y1="303.10" x2="523.6" y2="303.10" stroke="#000" stroke-width="2" stroke-dasharray="2 3.3" fill="none" stroke-dashoffset="-2.3"/>
<line x1="126.9" y1="264.90" x2="523.6" y2="264.90" stroke="#000" stroke-width="2" stroke-dasharray="2 3.3" fill="none" stroke-dashoffset="-2.3"/>
<line x1="126.9" y1="226.70" x2="523.6" y2="226.70" stroke="#000" stroke-width="2" stroke-dasharray="2 3.3" fill="none" stroke-dashoffset="-2.3"/>
<line x1="206.24" y1="188.5" x2="206.24" y2="341.3" stroke="#000" stroke-width="2" stroke-dasharray="2 3.3" fill="none" stroke-dashoffset="0.5"/>
<line x1="285.58" y1="188.5" x2="285.58" y2="341.3" stroke="#000" stroke-width="2" stroke-dasharray="2 3.3" fill="none" stroke-dashoffset="0.5"/>
<line x1="364.92" y1="188.5" x2="364.92" y2="341.3" stroke="#000" stroke-width="2" stroke-dasharray="2 3.3" fill="none" stroke-dashoffset="0.5"/>
<line x1="444.26" y1="188.5" x2="444.26" y2="341.3" stroke="#000" stroke-width="2" stroke-dasharray="2 3.3" fill="none" stroke-dashoffset="0.5"/>
<line x1="126.9" y1="341.30" x2="131.9" y2="341.30" stroke="#000" stroke-width="2"/>
<line x1="523.6" y1="341.30" x2="518.6" y2="341.30" stroke="#000" stroke-width="2"/>
<line x1="126.9" y1="303.10" x2="131.9" y2="303.10" stroke="#000" stroke-width="2"/>
<line x1="523.6" y1="303.10" x2="518.6" y2="303.10" stroke="#000" stroke-width="2"/>
<line x1="126.9" y1="264.90" x2="131.9" y2="264.90" stroke="#000" stroke-width="2"/>
<line x1="523.6" y1="264.90" x2="518.6" y2="264.90" stroke="#000" stroke-width="2"/>
<line x1="126.9" y1="226.70" x2="131.9" y2="226.70" stroke="#000" stroke-width="2"/>
<line x1="523.6" y1="226.70" x2="518.6" y2="226.70" stroke="#000" stroke-width="2"/>
<line x1="126.9" y1="188.50" x2="131.9" y2="188.50" stroke="#000" stroke-width="2"/>
<line x1="523.6" y1="188.50" x2="518.6" y2="188.50" stroke="#000" stroke-width="2"/>
<line x1="126.90" y1="188.5" x2="126.90" y2="193.5" stroke="#000" stroke-width="2"/>
<line x1="126.90" y1="341.3" x2="126.90" y2="336.3" stroke="#000" stroke-width="2"/>
<line x1="206.24" y1="188.5" x2="206.24" y2="193.5" stroke="#000" stroke-width="2"/>
<line x1="206.24" y1="341.3" x2="206.24" y2="336.3" stroke="#000" stroke-width="2"/>
<line x1="285.58" y1="188.5" x2="285.58" y2="193.5" stroke="#000" stroke-width="2"/>
<line x1="285.58" y1="341.3" x2="285.58" y2="336.3" stroke="#000" stroke-width="2"/>
<line x1="364.92" y1="188.5" x2="364.92" y2="193.5" stroke="#000" stroke-width="2"/>
<line x1="364.92" y1="341.3" x2="364.92" y2="336.3" stroke="#000" stroke-width="2"/>
<line x1="444.26" y1="188.5" x2="444.26" y2="193.5" stroke="#000" stroke-width="2"/>
<line x1="444.26" y1="341.3" x2="444.26" y2="336.3" stroke="#000" stroke-width="2"/>
<line x1="523.60" y1="188.5" x2="523.60" y2="193.5" stroke="#000" stroke-width="2"/>
<line x1="523.60" y1="341.3" x2="523.60" y2="336.3" stroke="#000" stroke-width="2"/>
<line x1="215.2" y1="44" x2="216.57" y2="48.94" stroke="#000" stroke-width="1.6"/>
<polygon points="218.3,55.2 213.48,49.79 219.65,48.08" fill="#000"/>
<line x1="241.1" y1="44" x2="242.51" y2="48.95" stroke="#000" stroke-width="1.6"/>
<polygon points="244.3,55.2 239.44,49.83 245.59,48.07" fill="#000"/>
<line x1="266.8" y1="44" x2="268.31" y2="48.98" stroke="#000" stroke-width="1.6"/>
<polygon points="270.2,55.2 265.25,49.91 271.37,48.05" fill="#000"/>
<line x1="213.9" y1="209.3" x2="215.46" y2="214.30" stroke="#000" stroke-width="1.6"/>
<polygon points="217.4,220.5 212.41,215.25 218.52,213.34" fill="#000"/>
<line x1="239.8" y1="209.3" x2="241.67" y2="214.40" stroke="#000" stroke-width="1.6"/>
<polygon points="243.9,220.5 238.66,215.50 244.67,213.30" fill="#000"/>
<line x1="265.7" y1="209.3" x2="267.26" y2="214.30" stroke="#000" stroke-width="1.6"/>
<polygon points="269.2,220.5 264.21,215.25 270.32,213.34" fill="#000"/>
<clipPath id="c3"><rect x="126.5" y="390.1" width="398.5" height="156.89999999999998"/></clipPath>
<path clip-path="url(#c3)" d="M144.6,547.0V542.7H146.5V547.0ZM146.5,547.0V541.3H148.0V547.0ZM148.0,547.0V539.0H149.5V547.0ZM149.5,547.0V540.5H151.0V547.0ZM151.0,547.0V542.0H152.3V547.0ZM152.3,547.0V300.0H153.7V547.0ZM153.7,547.0V534.7H155.3V547.0ZM155.3,547.0V542.7H156.7V547.0ZM156.7,547.0V540.5H158.2V547.0ZM158.2,547.0V542.0H159.6V547.0ZM159.6,547.0V542.7H161.1V547.0ZM161.1,547.0V544.2H163.3V547.0ZM163.3,547.0V536.9H164.7V547.0ZM164.7,547.0V536.2H166.2V547.0ZM166.2,547.0V539.0H167.6V547.0ZM167.6,547.0V534.7H168.4V547.0ZM168.4,547.0V541.3H169.8V547.0ZM169.8,547.0V531.8H171.3V547.0ZM171.3,547.0V540.5H172.7V547.0ZM172.7,547.0V539.0H174.2V547.0ZM174.2,547.0V537.6H175.6V547.0ZM175.6,547.0V539.8H177.1V547.0ZM177.1,547.0V538.4H178.1V547.0ZM178.1,547.0V531.8H179.6V547.0ZM179.6,547.0V539.8H182.2V547.0ZM182.2,547.0V503.2H183.6V547.0ZM183.6,547.0V541.3H185.8V547.0ZM185.8,547.0V534.7H187.3V547.0ZM187.3,547.0V536.2H188.7V547.0ZM188.7,547.0V531.1H190.2V547.0ZM190.2,547.0V526.7H193.1V547.0ZM193.1,547.0V534.0H194.5V547.0ZM194.5,547.0V538.4H196.7V547.0ZM196.7,547.0V533.3H197.9V547.0ZM197.9,547.0V522.0H199.3V547.0ZM199.3,547.0V536.9H201.1V547.0ZM201.1,547.0V541.3H204.0V547.0ZM204.0,547.0V539.8H205.5V547.0ZM205.5,547.0V531.1H206.9V547.0ZM206.9,547.0V532.5H208.4V547.0ZM208.4,547.0V528.2H209.8V547.0ZM209.8,547.0V529.6H211.3V547.0ZM211.3,547.0V528.2H212.7V547.0ZM212.7,547.0V536.9H214.5V547.0ZM214.5,547.0V528.9H215.9V547.0ZM215.9,547.0V523.1H217.6V547.0ZM217.6,547.0V528.9H220.5V547.0ZM220.5,547.0V518.7H222.0V547.0ZM222.0,547.0V541.3H223.4V547.0ZM223.4,547.0V544.2H225.2V547.0ZM225.2,547.0V539.8H226.6V547.0ZM226.6,547.0V526.7H228.1V547.0ZM228.1,547.0V480.9H229.5V547.0ZM229.5,547.0V533.3H232.5V547.0ZM232.5,547.0V516.5H233.9V547.0ZM233.9,547.0V531.1H235.8V547.0ZM235.8,547.0V465.8H237.3V547.0ZM237.3,547.0V513.6H238.7V547.0ZM238.7,547.0V529.6H240.5V547.0ZM240.5,547.0V497.6H241.9V547.0ZM241.9,547.0V532.5H243.4V547.0ZM243.4,547.0V476.5H244.8V547.0ZM244.8,547.0V518.0H246.3V547.0ZM246.3,547.0V512.9H247.7V547.0ZM247.7,547.0V526.7H249.2V547.0ZM249.2,547.0V534.0H252.1V547.0ZM252.1,547.0V527.5H253.5V547.0ZM253.5,547.0V515.1H255.0V547.0ZM255.0,547.0V535.5H257.2V547.0ZM257.2,547.0V531.1H258.6V547.0ZM258.6,547.0V516.5H259.8V547.0ZM259.8,547.0V538.4H261.5V547.0ZM261.5,547.0V524.5H263.0V547.0ZM263.0,547.0V536.9H264.5V547.0ZM264.5,547.0V534.0H265.9V547.0ZM265.9,547.0V539.8H268.8V547.0ZM268.8,547.0V543.5H271.7V547.0ZM271.7,547.0V538.4H273.2V547.0ZM273.2,547.0V540.5H276.1V547.0ZM276.1,547.0V542.7H278.3V547.0ZM278.3,547.0V539.0H279.7V547.0ZM279.7,547.0V542.7H281.2V547.0ZM281.2,547.0V529.6H282.6V547.0ZM282.6,547.0V542.7H284.1V547.0ZM284.1,547.0V542.0H286.3V547.0ZM286.3,547.0V544.2H287.7V547.0ZM287.7,547.0V538.4H289.2V547.0ZM289.2,547.0V534.7H290.6V547.0ZM290.6,547.0V542.0H292.1V547.0ZM292.1,547.0V544.6H296.5V547.0ZM296.5,547.0V538.1H298.0V547.0ZM298.0,547.0V543.4H300.0V547.0ZM300.0,547.0V542.2H301.5V547.0ZM301.5,547.0V543.8H304.5V547.0ZM304.5,547.0V544.6H307.0V547.0ZM307.0,547.0V543.6H309.0V547.0ZM309.0,547.0V545.2H311.8V547.0ZM311.8,547.0V542.9H313.3V547.0ZM313.3,547.0V544.2H316.0V547.0ZM316.0,547.0V545.2H319.1V547.0ZM319.1,547.0V536.1H320.8V547.0ZM320.8,547.0V545.0H324.0V547.0ZM324.0,547.0V544.2H326.0V547.0ZM326.0,547.0V545.4H327.8V547.0ZM327.8,547.0V543.3H331.5V547.0ZM331.5,547.0V545.0H336.0V547.0ZM336.0,547.0V544.0H338.0V547.0ZM338.0,547.0V545.6H343.0V547.0ZM343.0,547.0V543.5H344.5V547.0ZM344.5,547.0V545.6H352.0V547.0ZM352.0,547.0V544.6H354.0V547.0ZM354.0,547.0V545.8H365.0V547.0ZM365.0,547.0V544.2H366.5V547.0ZM366.5,547.0V545.4H372.0V547.0ZM372.0,547.0V545.8H376.0V547.0ZM376.0,547.0V545.2H380.0V547.0ZM380.0,547.0V546.0H410.0V547.0ZM410.0,547.0V544.6H411.5V547.0ZM411.5,547.0V546.2H470.0V547.0Z" fill="#0072bd"/>
<line x1="145.40" y1="390.1" x2="145.40" y2="394.6" stroke="#000" stroke-width="1.6"/>
<line x1="145.40" y1="547.0" x2="145.40" y2="542.5" stroke="#000" stroke-width="1.6"/>
<line x1="221.32" y1="390.1" x2="221.32" y2="394.6" stroke="#000" stroke-width="1.6"/>
<line x1="221.32" y1="547.0" x2="221.32" y2="542.5" stroke="#000" stroke-width="1.6"/>
<line x1="297.24" y1="390.1" x2="297.24" y2="394.6" stroke="#000" stroke-width="1.6"/>
<line x1="297.24" y1="547.0" x2="297.24" y2="542.5" stroke="#000" stroke-width="1.6"/>
<line x1="373.16" y1="390.1" x2="373.16" y2="394.6" stroke="#000" stroke-width="1.6"/>
<line x1="373.16" y1="547.0" x2="373.16" y2="542.5" stroke="#000" stroke-width="1.6"/>
<line x1="449.08" y1="390.1" x2="449.08" y2="394.6" stroke="#000" stroke-width="1.6"/>
<line x1="449.08" y1="547.0" x2="449.08" y2="542.5" stroke="#000" stroke-width="1.6"/>
<line x1="525.00" y1="390.1" x2="525.00" y2="394.6" stroke="#000" stroke-width="1.6"/>
<line x1="525.00" y1="547.0" x2="525.00" y2="542.5" stroke="#000" stroke-width="1.6"/>
<line x1="126.5" y1="547.00" x2="131.0" y2="547.00" stroke="#000" stroke-width="1.6"/>
<line x1="525.0" y1="547.00" x2="520.5" y2="547.00" stroke="#000" stroke-width="1.6"/>
<line x1="126.5" y1="507.77" x2="131.0" y2="507.77" stroke="#000" stroke-width="1.6"/>
<line x1="525.0" y1="507.77" x2="520.5" y2="507.77" stroke="#000" stroke-width="1.6"/>
<line x1="126.5" y1="468.55" x2="131.0" y2="468.55" stroke="#000" stroke-width="1.6"/>
<line x1="525.0" y1="468.55" x2="520.5" y2="468.55" stroke="#000" stroke-width="1.6"/>
<line x1="126.5" y1="429.33" x2="131.0" y2="429.33" stroke="#000" stroke-width="1.6"/>
<line x1="525.0" y1="429.33" x2="520.5" y2="429.33" stroke="#000" stroke-width="1.6"/>
<line x1="126.5" y1="390.10" x2="131.0" y2="390.10" stroke="#000" stroke-width="1.6"/>
<line x1="525.0" y1="390.10" x2="520.5" y2="390.10" stroke="#000" stroke-width="1.6"/>
<rect x="126.5" y="390.1" width="398.5" height="156.89999999999998" fill="none" stroke="#000" stroke-width="1.7"/>
<text transform="translate(209.4,40.9) scale(1.06,0.93)" font-size="20" font-style="italic" fill="#000">u</text><text x="219.5" y="43.6" font-size="13.5" font-style="italic" fill="#000">a</text>
<text transform="translate(234.8,40.9) scale(1.06,0.93)" font-size="20" font-style="italic" fill="#000">u</text><text x="245.3" y="43.6" font-size="13.5" font-style="italic" fill="#000">b</text>
<text transform="translate(261.2,40.9) scale(1.06,0.93)" font-size="20" font-style="italic" fill="#000">u</text><text x="270.7" y="43.6" font-size="13.5" font-style="italic" fill="#000">c</text>
<text x="210.2" y="206.3" font-size="20" font-style="italic" fill="#000">i</text><text x="215.6" y="209.0" font-size="13.5" font-style="italic" fill="#000">a</text>
<text x="236.7" y="206.3" font-size="20" font-style="italic" fill="#000">i</text><text x="241.9" y="209.0" font-size="13.5" font-style="italic" fill="#000">b</text>
<text x="262.7" y="206.3" font-size="20" font-style="italic" fill="#000">i</text><text x="267.6" y="209.0" font-size="13.5" font-style="italic" fill="#000">c</text>
<text x="94.28" y="28.01" font-size="21.30">200</text>
<text x="94.69" y="63.52" font-size="21.30">100</text>
<text x="115.33" y="102.26" font-size="21.30">0</text>
<text x="93.84" y="139.92" font-size="21.30">100</text>
<text x="79.73" y="140.24" font-size="21.30">−</text>
<text x="93.78" y="176.61" font-size="21.30">200</text>
<text x="79.73" y="177.24" font-size="21.30">−</text>
<text x="103.35" y="196.76" font-size="21.30">20</text>
<text x="103.47" y="234.52" font-size="21.30">10</text>
<text x="113.97" y="270.46" font-size="21.30">0</text>
<text x="102.57" y="309.07" font-size="21.30">10</text>
<text x="88.53" y="309.04" font-size="21.30">−</text>
<text x="102.80" y="345.61" font-size="21.30">20</text>
<text x="88.53" y="346.04" font-size="21.30">−</text>
<text x="120.74" y="362.36" font-size="21.30">0.5</text>
<text x="192.63" y="362.56" font-size="21.30">0.52</text>
<text x="272.60" y="362.56" font-size="21.30">0.54</text>
<text x="352.76" y="362.56" font-size="21.30">0.56</text>
<text x="431.11" y="362.56" font-size="21.30">0.58</text>
<text x="509.28" y="362.56" font-size="21.30">0.6</text>
<text transform="translate(310.29,378.83) skewX(-5)" font-size="31.50" font-style="italic" stroke="#1a1a1a" stroke-width="0.2">t/s</text>
<text x="98.25" y="398.86" font-size="21.30">0.2</text>
<text x="87.71" y="437.52" font-size="21.30">0.15</text>
<text x="97.45" y="476.42" font-size="21.30">0.1</text>
<text x="87.96" y="515.31" font-size="21.30">0.05</text>
<text x="113.27" y="554.26" font-size="21.30">0</text>
<text x="140.73" y="563.96" font-size="21.30">0</text>
<text x="208.67" y="563.72" font-size="21.30">10</text>
<text x="285.70" y="563.61" font-size="21.30">20</text>
<text x="363.24" y="563.61" font-size="21.30">30</text>
<text x="441.66" y="563.61" font-size="21.30">40</text>
<text x="516.84" y="563.61" font-size="21.30">50</text>
<text x="251.56" y="587.24" font-size="21.39">Number of harmonics</text>
<text x="406.53" y="417.76" font-size="21.30">THD=0.25%</text>
<text transform="translate(28.30,175.73) rotate(-90)" font-size="21.40">Three-phase grid-</text>
<text transform="translate(55.10,142.46) rotate(-90)" font-size="21.40">connected</text>
<text transform="translate(80.10,145.30) rotate(-90)" font-size="21.40">voltage(V)</text>
<text transform="translate(31.30,353.23) rotate(-90)" font-size="21.40">Three-phase grid-</text>
<text transform="translate(56.80,320.71) rotate(-90)" font-size="21.40">connected</text>
<text transform="translate(81.90,322.80) rotate(-90)" font-size="21.40">current(A)</text>
<text transform="translate(34.90,534.97) rotate(-90)" font-size="21.40">Grid-connected</text>
<text transform="translate(60.40,523.13) rotate(-90)" font-size="21.40">current THD</text>
<text transform="translate(88.00,485.70) rotate(-90)" font-size="21.40">(%)</text>
</svg></body></html>
